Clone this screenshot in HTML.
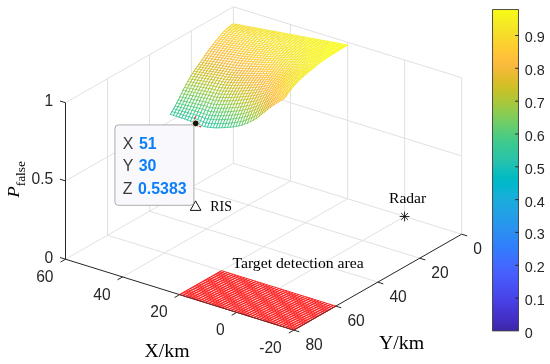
<!DOCTYPE html><html><head><meta charset="utf-8"><title>P_false surface</title><style>html,body{margin:0;padding:0;background:#fff}svg{display:block}</style></head><body><svg width="550" height="364" viewBox="0 0 550 364">
<rect width="550" height="364" fill="#fff"/>
<path d="M65.5 259.2L233.4 163.3M122.6 276.9L290.5 181.0M179.7 294.6L347.6 198.7M236.7 312.4L404.6 216.5M107.5 235.2L335.8 306.1M149.5 211.2L377.8 282.1M191.4 187.3L419.7 258.2M233.4 163.3L461.7 234.2M107.5 235.2L107.5 78.7M149.5 211.2L149.5 54.7M191.4 187.3L191.4 30.8M233.4 163.3L233.4 6.8M65.5 180.9L233.4 85.0M65.5 102.7L233.4 6.8M290.5 181.0L290.5 24.5M347.6 198.7L347.6 42.2M404.6 216.5L404.6 60.0M461.7 234.2L461.7 77.7M233.4 85.0L461.7 155.9M233.4 6.8L461.7 77.7" stroke="#dedede" stroke-width="0.9" fill="none"/>
<path d="M65.5 102.7L65.5 259.2L293.8 330.1L461.7 234.2M65.5 259.2L60.0 257.5M65.5 180.9L60.0 179.2M65.5 102.7L60.0 101.0M65.5 259.2L60.5 262.1M122.6 276.9L117.5 279.8M179.7 294.6L174.6 297.5M236.7 312.4L231.7 315.3M293.8 330.1L288.8 333.0M293.8 330.1L299.3 331.8M335.8 306.1L341.3 307.8M377.8 282.1L383.3 283.9M419.7 258.2L425.3 259.9M461.7 234.2L467.2 235.9" stroke="#262626" stroke-width="1" fill="none" stroke-linejoin="round"/>
<path d="M335.8 306.1L293.8 330.1M332.9 305.2L290.9 329.2M330.1 304.4L288.1 328.3M327.2 303.5L285.2 327.4M324.4 302.6L282.4 326.6M321.5 301.7L279.5 325.7M318.7 300.8L276.7 324.8M315.8 299.9L273.8 323.9M312.9 299.0L271.0 323.0M310.1 298.1L268.1 322.1M307.2 297.3L265.3 321.2M304.4 296.4L262.4 320.4M301.5 295.5L259.6 319.5M298.7 294.6L256.7 318.6M295.8 293.7L253.8 317.7M293.0 292.8L251.0 316.8M290.1 291.9L248.1 315.9M287.3 291.1L245.3 315.0M284.4 290.2L242.4 314.1M281.6 289.3L239.6 313.3M278.7 288.4L236.7 312.4M275.8 287.5L233.9 311.5M273.0 286.6L231.0 310.6M270.1 285.7L228.2 309.7M267.3 284.9L225.3 308.8M264.4 284.0L222.5 307.9M261.6 283.1L219.6 307.1M258.7 282.2L216.7 306.2M255.9 281.3L213.9 305.3M253.0 280.4L211.0 304.4M250.2 279.5L208.2 303.5M247.3 278.7L205.3 302.6M244.5 277.8L202.5 301.7M241.6 276.9L199.6 300.9M238.7 276.0L196.8 300.0M235.9 275.1L193.9 299.1M233.0 274.2L191.1 298.2M230.2 273.3L188.2 297.3M227.3 272.4L185.4 296.4M224.5 271.6L182.5 295.5M221.6 270.7L179.7 294.6" stroke="#ff1c1c" stroke-width="1.1" fill="none"/>
<path d="M335.8 306.1L221.6 270.7M333.7 307.3L219.5 271.9M331.6 308.5L217.4 273.1M329.5 309.7L215.3 274.3M327.4 310.9L213.2 275.5M325.3 312.1L211.1 276.7M323.2 313.3L209.0 277.9M321.1 314.5L206.9 279.1M319.0 315.7L204.8 280.3M316.9 316.9L202.7 281.5M314.8 318.1L200.6 282.7M312.7 319.3L198.5 283.9M310.6 320.5L196.4 285.1M308.5 321.7L194.3 286.3M306.4 322.9L192.2 287.5M304.3 324.1L190.1 288.7M302.2 325.3L188.0 289.9M300.1 326.5L185.9 291.1M298.0 327.7L183.8 292.3M295.9 328.9L181.7 293.5M293.8 330.1L179.7 294.6" stroke="#ff1c1c" stroke-width="0.9" fill="none"/>
<path d="M179.7 294.6L293.8 330.1L335.8 306.1" stroke="#262626" stroke-width="1" fill="none" opacity="0.55"/>
<path d="M347.6 44.9L344.7 44.4L341.8 43.9L339.0 43.3L336.1 42.8L333.3 42.3L330.4 41.8L327.6 41.2L324.7 40.7L321.9 40.2L319.0 39.6L316.2 39.1L313.3 38.6L310.5 38.1L307.6 37.5L304.7 37.0L301.9 36.5L299.0 36.0L296.2 35.4L293.3 34.9L290.5 34.4L287.6 33.9L284.8 33.3L281.9 32.8L279.1 32.3L276.2 31.8L273.4 31.2L270.5 30.7L267.6 30.2L264.8 29.6L261.9 29.1L259.1 28.6L256.2 28.1L253.4 27.5L250.5 27.0L247.7 26.5L244.8 26.0L242.0 25.4L239.1 24.9L236.3 24.4L233.4 23.9L233.4 23.9L231.8 24.8L230.3 26.0L228.7 27.2L227.1 28.4L225.5 29.8L224.0 31.4L222.4 33.2L220.8 35.0L219.2 36.8L217.7 38.6L216.1 40.6L214.5 42.5L212.9 44.5L211.4 46.6L209.8 48.7L208.2 50.9L206.6 53.1L205.1 55.3L203.5 57.6L201.9 60.0L200.3 62.3L198.8 64.5L197.2 66.7L195.6 68.9L194.0 71.2L192.5 73.6L190.9 76.1L189.3 78.7L187.8 81.5L186.2 84.5L184.6 87.4L183.0 90.4L181.5 93.6L179.9 96.8L178.3 100.0L176.7 103.1L175.2 106.0L173.6 108.9L172.0 111.6L170.4 114.3L170.4 114.3L173.3 115.2L176.1 116.2L179.0 117.1L181.9 118.1L184.7 119.0L187.6 120.0L190.4 121.0L193.3 122.0L196.1 123.0L199.0 124.3L201.8 125.7L204.7 126.6L207.5 127.1L210.4 127.4L213.2 127.7L216.1 127.8L219.0 127.8L221.8 127.7L224.7 127.6L227.5 127.4L230.4 127.2L233.2 126.9L236.1 126.5L238.9 125.9L241.8 125.2L244.6 124.2L247.5 123.1L250.3 121.8L253.2 120.3L256.1 118.5L258.9 116.5L261.8 114.3L264.6 111.9L267.5 109.7L270.3 107.5L273.2 105.4L276.0 103.5L278.9 101.9L281.7 100.4L284.6 98.4L284.6 98.4L286.2 96.0L287.7 93.7L289.3 91.6L290.9 89.5L292.5 87.6L294.0 85.7L295.6 83.9L297.2 82.3L298.8 80.7L300.3 79.2L301.9 77.7L303.5 76.3L305.1 74.9L306.6 73.6L308.2 72.3L309.8 71.0L311.3 69.8L312.9 68.5L314.5 67.2L316.1 65.9L317.6 64.6L319.2 63.3L320.8 62.1L322.4 61.0L323.9 59.9L325.5 58.8L327.1 57.7L328.7 56.6L330.2 55.6L331.8 54.6L333.4 53.6L335.0 52.7L336.5 51.7L338.1 50.7L339.7 49.7L341.3 48.8L342.8 47.8L344.4 46.8L346.0 45.9L347.6 44.9 z" fill="#fff"/>
<g fill="none" stroke-width="0.75" stroke-linecap="round">
<path stroke="#2cc4a6" d="M213.2 127.7l-2.9 -0.3M210.4 127.4l-2.9 -0.3M207.5 127.1l-2.9 -0.5M204.7 126.6l-2.9 -0.9M201.8 125.7l-2.9 -1.4M199.0 124.3l-2.9 -1.3M196.1 123.0l-2.9 -1.0M193.3 122.0l-2.9 -1.0M190.4 121.0l-2.9 -1.0"/>
<path stroke="#34c79c" d="M221.8 127.7l-2.9 0.1M219.0 127.8l-2.9 0.0M216.1 127.8l-2.9 -0.1M214.8 123.7l-2.9 -0.2M212.0 123.4l-2.9 -0.3M209.1 123.2l-2.9 -0.4M206.3 122.8l-2.9 -0.8M203.4 121.9l-2.9 -1.3M200.5 120.7l-2.9 -1.2M197.7 119.5l-2.9 -0.9M194.8 118.6l-2.9 -0.9M192.0 117.7l-2.9 -0.9M189.1 116.8l-2.9 -0.9M187.6 120.0l-2.9 -1.0M186.3 115.9l-2.9 -0.9M184.7 119.0l-2.9 -1.0M183.4 115.0l-2.9 -0.9M181.9 118.1l-2.9 -1.0M180.6 114.2l-2.9 -0.9M179.0 117.1l-2.9 -1.0M177.7 113.3l-2.9 -0.9M176.1 116.2l-2.9 -0.9M174.9 112.5l-2.9 -0.8M173.3 115.2l-2.9 -0.9"/>
<path stroke="#3dc990" d="M230.4 127.2l-2.9 0.2M227.5 127.4l-2.9 0.2M224.7 127.6l-2.9 0.1M223.4 123.5l-2.9 0.1M220.5 123.6l-2.9 0.1M217.7 123.7l-2.9 -0.0M216.4 119.7l-2.9 -0.2M213.5 119.5l-2.9 -0.2M210.7 119.3l-2.9 -0.4M207.8 119.0l-2.9 -0.7M205.0 118.3l-2.9 -1.1M202.1 117.1l-2.9 -1.1M199.3 116.0l-2.9 -0.8M196.4 115.2l-2.9 -0.8M193.6 114.4l-2.9 -0.8M190.7 113.6l-2.9 -0.8M187.9 112.8l-2.9 -0.8M185.0 112.0l-2.9 -0.8M182.1 111.2l-2.9 -0.8M180.9 107.4l-2.9 -0.7M179.3 110.4l-2.9 -0.8M178.0 106.7l-2.9 -0.7M176.4 109.6l-2.9 -0.8"/>
<path stroke="#4bcb84" d="M238.9 125.9l-2.9 0.6M236.1 126.5l-2.9 0.4M233.2 126.9l-2.9 0.3M231.9 122.9l-2.9 0.3M229.1 123.2l-2.9 0.2M226.2 123.4l-2.9 0.1M225.0 119.4l-2.9 0.2M222.1 119.6l-2.9 0.1M219.2 119.7l-2.9 -0.0M218.0 115.8l-2.9 -0.1M215.1 115.7l-2.9 -0.1M212.3 115.6l-2.9 -0.3M209.4 115.3l-2.9 -0.7M206.6 114.6l-2.9 -1.1M203.7 113.6l-2.9 -1.0M200.8 112.6l-2.9 -0.8M198.0 111.8l-2.9 -0.7M196.7 107.7l-2.9 -0.7M195.1 111.0l-2.9 -0.7M193.9 107.1l-2.9 -0.7M192.3 110.3l-2.9 -0.7M191.0 106.4l-2.9 -0.7M189.4 109.6l-2.9 -0.7M188.1 105.7l-2.9 -0.7M186.6 108.9l-2.9 -0.7M185.3 105.1l-2.9 -0.7M183.7 108.2l-2.9 -0.7M182.4 104.4l-2.9 -0.7M179.6 103.7l-2.9 -0.7"/>
<path stroke="#5ccc76" d="M244.6 124.2l-2.9 1.0M241.8 125.2l-2.9 0.7M240.5 121.6l-2.9 0.6M237.6 122.2l-2.9 0.4M234.8 122.6l-2.9 0.3M233.5 118.8l-2.9 0.3M230.7 119.1l-2.9 0.2M227.8 119.3l-2.9 0.2M226.5 115.5l-2.9 0.2M223.7 115.7l-2.9 0.1M222.4 112.0l-2.9 0.1M220.8 115.8l-2.9 0.0M219.5 112.1l-2.9 -0.1M216.7 112.0l-2.9 -0.1M213.8 111.9l-2.9 -0.3M212.6 107.9l-2.9 -0.6M211.0 111.6l-2.9 -0.6M209.7 107.4l-2.9 -0.9M208.1 111.0l-2.9 -1.0M206.8 106.4l-2.9 -0.9M205.3 110.0l-2.9 -0.9M204.0 105.6l-2.9 -0.7M202.4 109.1l-2.9 -0.7M201.1 104.9l-2.9 -0.6M199.6 108.4l-2.9 -0.7M198.3 104.3l-2.9 -0.6M195.4 103.7l-2.9 -0.6M192.6 103.1l-2.9 -0.6M189.7 102.4l-2.9 -0.6M186.9 101.8l-2.9 -0.6M184.0 101.2l-2.9 -0.6M182.7 97.4l-2.9 -0.6M181.2 100.6l-2.9 -0.6"/>
<path stroke="#6dcd67" d="M247.5 123.1l-2.9 1.1M243.4 120.9l-2.9 0.7M239.2 118.0l-2.9 0.4M236.4 118.4l-2.9 0.4M235.1 114.8l-2.9 0.3M232.2 115.1l-2.9 0.2M231.0 111.5l-2.9 0.2M229.4 115.3l-2.9 0.2M228.1 111.7l-2.9 0.2M225.2 111.9l-2.9 0.2M224.0 108.2l-2.9 0.1M221.1 108.3l-2.9 -0.1M218.3 108.2l-2.9 -0.1M215.4 108.1l-2.9 -0.2M214.1 104.2l-2.9 -0.5M211.3 103.7l-2.9 -0.8M208.4 102.8l-2.9 -0.8M205.6 102.0l-2.9 -0.6M202.7 101.4l-2.9 -0.6M199.9 100.8l-2.9 -0.6M197.0 100.2l-2.9 -0.6M194.2 99.7l-2.9 -0.6M191.3 99.1l-2.9 -0.6M190.0 95.2l-2.9 -0.6M188.4 98.5l-2.9 -0.6M187.2 94.6l-2.9 -0.5M185.6 97.9l-2.9 -0.6M184.3 94.1l-2.9 -0.5"/>
<path stroke="#81cc59" d="M253.2 120.3l-2.9 1.5M250.3 121.8l-2.9 1.3M249.1 118.8l-2.9 1.1M246.2 119.9l-2.9 1.0M244.9 116.7l-2.9 0.7M243.6 113.4l-2.9 0.6M242.1 117.4l-2.9 0.6M240.8 114.0l-2.9 0.4M237.9 114.4l-2.9 0.4M236.7 111.0l-2.9 0.3M233.8 111.3l-2.9 0.2M232.5 107.7l-2.9 0.2M229.7 107.9l-2.9 0.2M226.8 108.1l-2.9 0.2M225.5 104.5l-2.9 0.1M222.7 104.6l-2.9 -0.1M219.8 104.5l-2.9 -0.1M218.6 100.8l-2.9 -0.2M217.0 104.4l-2.9 -0.2M215.7 100.6l-2.9 -0.5M212.8 100.1l-2.9 -0.8M210.0 99.3l-2.9 -0.8M207.1 98.6l-2.9 -0.6M204.3 98.0l-2.9 -0.6M201.4 97.4l-2.9 -0.5M200.2 93.6l-2.9 -0.5M198.6 96.9l-2.9 -0.5M197.3 93.1l-2.9 -0.5M195.7 96.3l-2.9 -0.6M194.4 92.5l-2.9 -0.5M192.9 95.8l-2.9 -0.6M191.6 92.0l-2.9 -0.5M188.7 91.5l-2.9 -0.5M185.9 90.9l-2.9 -0.5"/>
<path stroke="#94ca4a" d="M256.1 118.5l-2.9 1.8M254.8 116.2l-2.9 1.4M251.9 117.6l-2.9 1.2M250.6 114.8l-2.9 1.0M249.4 111.9l-2.9 0.9M247.8 115.8l-2.9 0.9M246.5 112.8l-2.9 0.7M245.2 109.7l-2.9 0.5M242.4 110.2l-2.9 0.4M241.1 106.8l-2.9 0.3M239.5 110.6l-2.9 0.4M238.2 107.2l-2.9 0.3M235.4 107.5l-2.9 0.2M234.1 104.0l-2.9 0.2M231.2 104.2l-2.9 0.2M230.0 100.8l-2.9 0.1M228.4 104.3l-2.9 0.1M227.1 100.9l-2.9 0.1M224.3 100.9l-2.9 -0.1M223.0 97.5l-2.9 -0.1M221.4 100.9l-2.9 -0.1M220.1 97.4l-2.9 -0.2M217.3 97.2l-2.9 -0.5M214.4 96.7l-2.9 -0.8M211.6 96.0l-2.9 -0.7M210.3 92.1l-2.9 -0.5M208.7 95.2l-2.9 -0.6M207.4 91.5l-2.9 -0.5M205.9 94.7l-2.9 -0.5M204.6 91.0l-2.9 -0.5M203.0 94.1l-2.9 -0.5M201.7 90.5l-2.9 -0.5M198.9 90.0l-2.9 -0.5M196.0 89.5l-2.9 -0.5M194.7 86.0l-2.9 -0.5M193.2 89.0l-2.9 -0.5M191.9 85.5l-2.9 -0.5M190.3 88.4l-2.9 -0.5M189.0 85.0l-2.9 -0.5M187.5 87.9l-2.9 -0.5"/>
<path stroke="#a6c83c" d="M258.9 116.5l-2.9 2.0M257.6 114.5l-2.9 1.7M256.3 112.3l-2.9 1.3M253.5 113.6l-2.9 1.2M252.2 110.9l-2.9 1.0M250.9 108.2l-2.9 0.8M248.1 109.0l-2.9 0.6M246.8 105.9l-2.9 0.5M243.9 106.4l-2.9 0.4M242.7 103.2l-2.9 0.3M239.8 103.5l-2.9 0.3M238.5 100.2l-2.9 0.2M237.0 103.8l-2.9 0.2M235.7 100.4l-2.9 0.2M232.8 100.6l-2.9 0.2M231.5 97.4l-2.9 0.1M228.7 97.5l-2.9 0.0M227.4 94.3l-2.9 -0.1M225.8 97.5l-2.9 -0.1M224.6 94.3l-2.9 -0.1M221.7 94.2l-2.9 -0.2M220.4 90.8l-2.9 -0.4M218.8 94.0l-2.9 -0.5M217.6 90.4l-2.9 -0.7M216.0 93.5l-2.9 -0.7M214.7 89.7l-2.9 -0.7M213.1 92.8l-2.9 -0.7M211.9 89.0l-2.9 -0.5M209.0 88.5l-2.9 -0.5M206.2 88.0l-2.9 -0.5M204.9 84.5l-2.9 -0.5M203.3 87.5l-2.9 -0.5M202.0 84.0l-2.9 -0.5M200.4 87.0l-2.9 -0.5M199.2 83.5l-2.9 -0.5M197.6 86.5l-2.9 -0.5M196.3 83.0l-2.9 -0.5M193.5 82.5l-2.9 -0.5M192.2 79.2l-2.9 -0.5M190.6 82.0l-2.9 -0.5"/>
<path stroke="#b8c431" d="M261.8 114.3l-2.9 2.3M260.5 112.7l-2.9 1.9M259.2 110.7l-2.9 1.6M257.9 108.6l-2.9 1.2M256.6 106.2l-2.9 1.0M255.1 109.8l-2.9 1.1M253.8 107.3l-2.9 0.9M252.5 104.6l-2.9 0.8M249.7 105.3l-2.9 0.6M248.4 102.3l-2.9 0.5M245.5 102.8l-2.9 0.4M244.2 99.7l-2.9 0.3M241.4 100.0l-2.9 0.2M240.1 97.0l-2.9 0.2M237.3 97.1l-2.9 0.1M236.0 94.1l-2.9 0.1M234.4 97.3l-2.9 0.1M233.1 94.2l-2.9 0.1M231.8 91.2l-2.9 0.0M230.3 94.3l-2.9 0.0M229.0 91.2l-2.9 -0.1M227.7 88.1l-2.9 -0.1M226.1 91.1l-2.9 -0.1M224.9 88.0l-2.9 -0.2M223.3 91.0l-2.9 -0.2M222.0 87.8l-2.9 -0.4M219.1 87.3l-2.9 -0.7M216.3 86.7l-2.9 -0.6M215.0 83.1l-2.9 -0.5M213.4 86.0l-2.9 -0.5M212.2 82.6l-2.9 -0.5M210.6 85.5l-2.9 -0.5M209.3 82.1l-2.9 -0.5M207.7 85.0l-2.9 -0.5M206.4 81.7l-2.9 -0.5M203.6 81.2l-2.9 -0.5M202.3 78.0l-2.9 -0.5M200.7 80.7l-2.9 -0.5M199.5 77.5l-2.9 -0.5M197.9 80.2l-2.9 -0.5M196.6 77.0l-2.9 -0.5M195.0 79.7l-2.9 -0.5M195.3 74.0l-2.9 -0.5M193.8 76.6l-2.9 -0.5"/>
<path stroke="#c8c129" d="M264.6 111.9l-2.9 2.3M263.3 110.6l-2.9 2.1M262.1 109.0l-2.9 1.7M260.8 107.1l-2.9 1.5M259.5 105.1l-2.9 1.2M258.2 102.7l-2.9 1.0M255.4 103.7l-2.9 0.9M254.1 101.1l-2.9 0.7M252.8 98.4l-2.9 0.5M251.2 101.8l-2.9 0.6M249.9 99.0l-2.9 0.4M248.7 96.2l-2.9 0.3M247.1 99.4l-2.9 0.3M245.8 96.5l-2.9 0.3M244.5 93.7l-2.9 0.2M243.0 96.7l-2.9 0.2M241.7 93.8l-2.9 0.1M240.4 91.0l-2.9 0.1M238.8 94.0l-2.9 0.1M237.5 91.1l-2.9 0.1M236.3 88.2l-2.9 0.0M234.7 91.2l-2.9 0.1M233.4 88.2l-2.9 -0.0M232.1 85.3l-2.9 -0.1M230.6 88.2l-2.9 -0.1M229.3 85.2l-2.9 -0.1M228.0 82.3l-2.9 -0.2M226.4 85.1l-2.9 -0.2M225.1 82.1l-2.9 -0.4M223.6 84.8l-2.9 -0.4M222.3 81.7l-2.9 -0.6M220.7 84.4l-2.9 -0.7M219.4 81.0l-2.9 -0.6M217.9 83.8l-2.9 -0.6M216.6 80.4l-2.9 -0.5M215.3 77.4l-2.9 -0.5M213.7 79.9l-2.9 -0.5M212.5 76.9l-2.9 -0.5M210.9 79.4l-2.9 -0.5M209.6 76.4l-2.9 -0.5M208.0 78.9l-2.9 -0.5M208.3 73.6l-2.9 -0.5M206.7 75.9l-2.9 -0.5M205.2 78.5l-2.9 -0.5M205.5 73.1l-2.9 -0.5M203.9 75.5l-2.9 -0.5M202.6 72.6l-2.9 -0.5M201.0 75.0l-2.9 -0.5M199.8 72.2l-2.9 -0.5M198.2 74.5l-2.9 -0.5M198.5 69.4l-2.9 -0.5M196.9 71.7l-2.9 -0.5"/>
<path stroke="#d7be28" d="M267.5 109.7l-2.9 2.3M266.2 108.4l-2.9 2.2M264.9 107.0l-2.9 2.0M263.6 105.5l-2.9 1.6M262.3 103.7l-2.9 1.4M261.1 101.7l-2.9 1.1M259.8 99.4l-2.9 0.9M258.5 97.1l-2.9 0.7M256.9 100.3l-2.9 0.8M257.2 94.8l-2.9 0.6M255.7 97.8l-2.9 0.6M254.4 95.4l-2.9 0.5M253.1 92.8l-2.9 0.3M251.5 95.8l-2.9 0.4M250.2 93.2l-2.9 0.3M249.0 90.5l-2.9 0.2M247.4 93.5l-2.9 0.2M247.7 87.9l-2.9 0.1M246.1 90.7l-2.9 0.1M244.8 88.0l-2.9 0.1M243.3 90.9l-2.9 0.1M243.5 85.3l-2.9 0.0M242.0 88.1l-2.9 0.1M240.7 85.3l-2.9 0.0M239.1 88.1l-2.9 0.1M239.4 82.7l-2.9 -0.0M237.8 85.4l-2.9 0.0M236.6 82.7l-2.9 -0.1M235.0 85.4l-2.9 -0.0M235.3 80.1l-2.9 -0.2M233.7 82.6l-2.9 -0.1M232.4 79.9l-2.9 -0.2M230.9 82.5l-2.9 -0.2M231.1 77.3l-2.9 -0.3M229.6 79.7l-2.9 -0.2M228.3 77.1l-2.9 -0.4M226.7 79.5l-2.9 -0.4M225.4 76.6l-2.9 -0.6M223.9 79.1l-2.9 -0.6M222.6 76.0l-2.9 -0.6M221.0 78.5l-2.9 -0.6M221.3 73.1l-2.9 -0.5M219.7 75.4l-2.9 -0.5M218.2 77.9l-2.9 -0.5M218.5 72.7l-2.9 -0.5M216.9 75.0l-2.9 -0.5M215.6 72.2l-2.9 -0.5M214.0 74.5l-2.9 -0.5M214.3 69.5l-2.9 -0.5M212.7 71.7l-2.9 -0.5M211.2 74.0l-2.9 -0.5M211.5 69.0l-2.9 -0.5M209.9 71.3l-2.9 -0.5M208.6 68.6l-2.9 -0.5M207.0 70.8l-2.9 -0.5M207.3 65.9l-2.9 -0.5M205.8 68.1l-2.9 -0.5M204.2 70.3l-2.9 -0.5M204.5 65.4l-2.9 -0.5M202.9 67.6l-2.9 -0.5M201.3 69.9l-2.9 -0.5M201.6 65.0l-2.9 -0.5M200.1 67.2l-2.9 -0.5"/>
<path stroke="#e5bb2d" d="M270.3 107.5l-2.9 2.2M269.0 106.3l-2.9 2.1M269.3 101.8l-2.9 1.9M267.8 105.0l-2.9 2.0M268.1 100.5l-2.9 1.7M266.5 103.7l-2.9 1.8M266.8 99.0l-2.9 1.4M265.2 102.2l-2.9 1.5M265.5 97.3l-2.9 1.1M263.9 100.4l-2.9 1.2M264.2 95.4l-2.9 0.9M262.6 98.4l-2.9 1.0M262.9 93.4l-2.9 0.7M261.4 96.3l-2.9 0.8M260.1 94.1l-2.9 0.7M258.8 91.9l-2.9 0.5M257.5 89.6l-2.9 0.4M255.9 92.4l-2.9 0.4M256.2 87.3l-2.9 0.2M254.7 90.0l-2.9 0.3M253.4 87.5l-2.9 0.2M251.8 90.3l-2.9 0.2M252.1 85.0l-2.9 0.1M250.5 87.7l-2.9 0.1M249.3 85.2l-2.9 0.1M248.0 82.6l-2.9 0.0M246.4 85.2l-2.9 0.1M246.7 80.2l-2.9 -0.0M245.1 82.7l-2.9 0.0M243.8 80.2l-2.9 -0.0M242.3 82.7l-2.9 0.0M242.6 77.8l-2.9 -0.1M241.0 80.2l-2.9 -0.0M239.7 77.8l-2.9 -0.1M238.1 80.2l-2.9 -0.1M238.4 75.4l-2.9 -0.2M236.9 77.7l-2.9 -0.2M235.6 75.2l-2.9 -0.2M234.0 77.5l-2.9 -0.2M234.3 72.7l-2.9 -0.3M232.7 75.0l-2.9 -0.3M231.4 72.4l-2.9 -0.4M229.9 74.7l-2.9 -0.4M228.6 72.0l-2.9 -0.6M227.0 74.3l-2.9 -0.6M227.3 69.1l-2.9 -0.5M225.7 71.4l-2.9 -0.6M224.2 73.7l-2.9 -0.6M224.5 68.6l-2.9 -0.5M222.9 70.9l-2.9 -0.5M221.6 68.1l-2.9 -0.5M220.0 70.4l-2.9 -0.5M220.3 65.4l-2.9 -0.4M218.7 67.7l-2.9 -0.4M217.2 69.9l-2.9 -0.5M217.5 64.9l-2.9 -0.4M215.9 67.2l-2.9 -0.4M214.6 64.5l-2.9 -0.4M213.0 66.8l-2.9 -0.5M211.8 64.0l-2.9 -0.4M210.2 66.3l-2.9 -0.5M210.5 61.3l-2.9 -0.4M208.9 63.6l-2.9 -0.4M207.6 60.8l-2.9 -0.4M206.1 63.2l-2.9 -0.4M204.8 60.4l-2.9 -0.4M203.2 62.7l-2.9 -0.4"/>
<path stroke="#f1ba37" d="M273.2 105.4l-2.9 2.0M273.5 101.2l-2.9 1.9M271.9 104.3l-2.9 2.0M272.2 100.0l-2.9 1.8M270.6 103.1l-2.9 1.9M270.9 98.8l-2.9 1.7M269.6 97.5l-2.9 1.5M268.3 96.0l-2.9 1.3M267.1 94.3l-2.9 1.0M265.8 92.6l-2.9 0.8M264.5 90.7l-2.9 0.7M263.2 88.6l-2.9 0.5M261.7 91.3l-2.9 0.6M261.9 86.6l-2.9 0.4M260.4 89.2l-2.9 0.5M260.7 84.4l-2.9 0.3M259.1 87.0l-2.9 0.3M257.8 84.7l-2.9 0.2M256.5 82.4l-2.9 0.1M255.0 84.9l-2.9 0.2M255.3 80.1l-2.9 0.1M253.7 82.5l-2.9 0.1M254.0 77.9l-2.9 -0.0M252.4 80.2l-2.9 0.0M250.8 82.6l-2.9 0.1M251.1 77.9l-2.9 -0.0M249.5 80.2l-2.9 0.0M249.8 75.7l-2.9 -0.1M248.3 77.9l-2.9 -0.0M247.0 75.6l-2.9 -0.1M245.4 77.9l-2.9 -0.0M245.7 73.3l-2.9 -0.1M244.1 75.5l-2.9 -0.1M244.4 70.9l-2.9 -0.1M242.9 73.2l-2.9 -0.1M241.3 75.5l-2.9 -0.1M241.6 70.8l-2.9 -0.2M240.0 73.1l-2.9 -0.2M240.3 68.2l-2.9 -0.2M238.7 70.6l-2.9 -0.2M237.1 72.9l-2.9 -0.2M237.4 68.0l-2.9 -0.3M235.9 70.4l-2.9 -0.3M234.6 67.7l-2.9 -0.4M233.0 70.1l-2.9 -0.4M233.3 64.9l-2.9 -0.5M231.7 67.3l-2.9 -0.5M230.2 69.7l-2.9 -0.6M230.5 64.4l-2.9 -0.5M228.9 66.8l-2.9 -0.5M227.6 63.9l-2.9 -0.4M226.0 66.3l-2.9 -0.5M224.7 63.4l-2.9 -0.4M223.2 65.8l-2.9 -0.4M223.5 60.6l-2.9 -0.4M221.9 63.0l-2.9 -0.4M220.6 60.2l-2.9 -0.4M219.0 62.6l-2.9 -0.4M217.8 59.8l-2.9 -0.4M216.2 62.1l-2.9 -0.4M216.5 57.1l-2.9 -0.4M214.9 59.4l-2.9 -0.4M213.3 61.7l-2.9 -0.4M213.6 56.6l-2.9 -0.4M212.1 58.9l-2.9 -0.4M210.8 56.2l-2.9 -0.4M209.2 58.5l-2.9 -0.4M209.5 53.5l-2.9 -0.4M207.9 55.8l-2.9 -0.4M206.3 58.1l-2.9 -0.4"/>
<path stroke="#fbbc3d" d="M277.6 100.7l-2.9 1.7M276.0 103.5l-2.9 1.9M276.3 99.5l-2.9 1.7M274.7 102.4l-2.9 1.9M275.0 98.3l-2.9 1.7M275.3 94.5l-2.9 1.5M273.8 97.2l-2.9 1.6M274.1 93.2l-2.9 1.4M272.5 95.9l-2.9 1.6M272.8 91.9l-2.9 1.3M271.2 94.6l-2.9 1.4M271.5 90.6l-2.9 1.0M269.9 93.2l-2.9 1.1M270.2 89.1l-2.9 0.9M268.6 91.6l-2.9 0.9M268.9 87.4l-2.9 0.7M267.4 89.9l-2.9 0.7M267.7 85.6l-2.9 0.5M266.1 88.1l-2.9 0.6M266.4 83.6l-2.9 0.4M264.8 86.1l-2.9 0.5M265.1 81.7l-2.9 0.3M263.5 84.1l-2.9 0.4M263.8 79.7l-2.9 0.2M262.2 82.0l-2.9 0.2M262.5 77.7l-2.9 0.1M261.0 79.9l-2.9 0.1M259.4 82.2l-2.9 0.2M261.3 75.7l-2.9 0.0M259.7 77.8l-2.9 0.1M258.1 80.1l-2.9 0.1M258.4 75.7l-2.9 -0.0M256.8 77.9l-2.9 0.0M257.1 73.6l-2.9 -0.0M255.6 75.7l-2.9 -0.0M255.8 71.3l-2.9 -0.1M254.3 73.5l-2.9 -0.1M252.7 75.7l-2.9 -0.0M253.0 71.2l-2.9 -0.1M251.4 73.5l-2.9 -0.1M251.7 68.8l-2.9 -0.1M250.1 71.1l-2.9 -0.1M248.6 73.4l-2.9 -0.1M248.9 68.7l-2.9 -0.1M247.3 71.0l-2.9 -0.1M247.6 66.2l-2.9 -0.2M246.0 68.6l-2.9 -0.2M244.7 66.0l-2.9 -0.2M243.2 68.4l-2.9 -0.2M243.4 63.4l-2.9 -0.2M241.9 65.8l-2.9 -0.2M240.6 63.2l-2.9 -0.3M239.0 65.6l-2.9 -0.3M237.7 62.9l-2.9 -0.4M236.2 65.3l-2.9 -0.4M236.5 60.2l-2.9 -0.5M234.9 62.5l-2.9 -0.5M233.6 59.7l-2.9 -0.5M232.0 62.0l-2.9 -0.5M230.8 59.2l-2.9 -0.4M229.2 61.5l-2.9 -0.4M229.5 56.5l-2.9 -0.4M227.9 58.7l-2.9 -0.4M226.3 61.1l-2.9 -0.4M226.6 56.1l-2.9 -0.4M225.0 58.3l-2.9 -0.4M223.8 55.7l-2.9 -0.4M222.2 57.9l-2.9 -0.4M222.5 53.1l-2.9 -0.4M220.9 55.2l-2.9 -0.4M219.3 57.5l-2.9 -0.4M219.6 52.6l-2.9 -0.4M218.1 54.8l-2.9 -0.4M218.4 50.0l-2.9 -0.4M216.8 52.2l-2.9 -0.4M215.2 54.4l-2.9 -0.4M215.5 49.6l-2.9 -0.4M213.9 51.8l-2.9 -0.4M212.3 54.0l-2.9 -0.4M212.6 49.2l-2.9 -0.4M211.1 51.3l-2.9 -0.4"/>
<path stroke="#fec239" d="M281.7 100.4l-2.9 1.4M280.5 99.2l-2.9 1.5M278.9 101.9l-2.9 1.6M279.2 97.9l-2.9 1.6M279.5 94.2l-2.9 1.4M277.9 96.8l-2.9 1.6M278.2 93.0l-2.9 1.4M276.6 95.6l-2.9 1.6M276.9 91.8l-2.9 1.3M277.2 88.3l-2.9 1.2M275.6 90.6l-2.9 1.3M275.9 87.1l-2.9 1.1M274.4 89.4l-2.9 1.2M274.6 85.8l-2.9 0.8M273.1 88.1l-2.9 0.9M274.9 82.1l-2.9 0.6M273.4 84.3l-2.9 0.7M271.8 86.6l-2.9 0.8M273.7 80.5l-2.9 0.5M272.1 82.7l-2.9 0.5M270.5 85.0l-2.9 0.6M272.4 78.8l-2.9 0.3M270.8 80.9l-2.9 0.4M269.2 83.2l-2.9 0.5M271.1 77.1l-2.9 0.3M269.5 79.2l-2.9 0.3M268.0 81.3l-2.9 0.4M269.8 75.3l-2.9 0.2M268.2 77.4l-2.9 0.2M266.7 79.5l-2.9 0.3M268.5 73.5l-2.9 0.1M267.0 75.5l-2.9 0.1M265.4 77.6l-2.9 0.1M265.7 73.5l-2.9 0.0M264.1 75.6l-2.9 0.1M264.4 71.4l-2.9 -0.0M262.8 73.6l-2.9 0.0M263.1 69.2l-2.9 -0.1M261.6 71.4l-2.9 -0.0M260.0 73.6l-2.9 -0.0M260.3 69.1l-2.9 -0.1M258.7 71.4l-2.9 -0.1M259.0 66.7l-2.9 -0.1M257.4 69.0l-2.9 -0.1M256.1 66.6l-2.9 -0.1M254.6 68.9l-2.9 -0.1M254.9 64.1l-2.9 -0.1M253.3 66.5l-2.9 -0.1M252.0 64.0l-2.9 -0.2M250.4 66.3l-2.9 -0.1M250.7 61.5l-2.9 -0.2M249.2 63.8l-2.9 -0.2M249.4 59.1l-2.9 -0.3M247.9 61.3l-2.9 -0.2M246.3 63.6l-2.9 -0.2M246.6 58.9l-2.9 -0.3M245.0 61.1l-2.9 -0.2M245.3 56.5l-2.9 -0.3M243.7 58.6l-2.9 -0.3M242.2 60.8l-2.9 -0.3M242.5 56.1l-2.9 -0.4M240.9 58.3l-2.9 -0.4M239.3 60.6l-2.9 -0.4M239.6 55.7l-2.9 -0.5M238.0 57.9l-2.9 -0.5M238.3 53.1l-2.9 -0.5M236.8 55.3l-2.9 -0.5M235.2 57.4l-2.9 -0.5M235.5 52.6l-2.9 -0.4M233.9 54.8l-2.9 -0.4M232.3 56.9l-2.9 -0.4M232.6 52.2l-2.9 -0.4M231.0 54.3l-2.9 -0.4M231.3 49.7l-2.9 -0.4M229.8 51.8l-2.9 -0.4M228.2 53.9l-2.9 -0.4M228.5 49.3l-2.9 -0.4M226.9 51.3l-2.9 -0.4M225.3 53.5l-2.9 -0.4M227.2 46.8l-2.9 -0.4M225.6 48.8l-2.9 -0.4M224.1 50.9l-2.9 -0.4M224.4 46.3l-2.9 -0.4M222.8 48.4l-2.9 -0.4M221.2 50.5l-2.9 -0.4M221.5 45.9l-2.9 -0.5M219.9 47.9l-2.9 -0.4M220.2 43.5l-2.9 -0.5M218.6 45.4l-2.9 -0.5M217.1 47.5l-2.9 -0.4M217.4 43.0l-2.9 -0.5M215.8 45.0l-2.9 -0.5M214.2 47.0l-2.9 -0.4"/>
<path stroke="#feca33" d="M284.6 98.4l-2.9 2.0M284.9 95.4l-2.9 1.2M283.3 97.9l-2.9 1.3M283.6 94.1l-2.9 1.2M282.0 96.6l-2.9 1.4M282.3 92.9l-2.9 1.3M280.7 95.3l-2.9 1.4M282.6 89.4l-2.9 1.2M281.0 91.8l-2.9 1.3M281.3 88.2l-2.9 1.2M279.8 90.6l-2.9 1.3M281.6 85.0l-2.9 1.0M280.1 87.1l-2.9 1.1M278.5 89.4l-2.9 1.2M280.4 83.9l-2.9 1.0M278.8 86.0l-2.9 1.1M280.6 80.6l-2.9 0.8M279.1 82.7l-2.9 0.9M277.5 84.8l-2.9 0.9M279.4 79.3l-2.9 0.6M277.8 81.4l-2.9 0.7M276.2 83.5l-2.9 0.8M279.7 76.1l-2.9 0.4M278.1 78.0l-2.9 0.5M276.5 79.9l-2.9 0.5M278.4 74.6l-2.9 0.3M276.8 76.5l-2.9 0.3M275.2 78.4l-2.9 0.4M277.1 72.9l-2.9 0.2M275.5 74.9l-2.9 0.2M274.0 76.8l-2.9 0.3M275.8 71.1l-2.9 0.1M274.2 73.1l-2.9 0.2M272.7 75.1l-2.9 0.2M274.5 69.2l-2.9 0.1M273.0 71.3l-2.9 0.1M271.4 73.3l-2.9 0.1M271.7 69.2l-2.9 0.0M270.1 71.4l-2.9 0.0M270.4 67.0l-2.9 -0.0M268.8 69.3l-2.9 -0.0M267.3 71.4l-2.9 0.0M269.1 64.8l-2.9 -0.1M267.6 67.0l-2.9 -0.1M266.0 69.2l-2.9 -0.0M266.3 64.7l-2.9 -0.1M264.7 66.9l-2.9 -0.1M265.0 62.4l-2.9 -0.2M263.4 64.6l-2.9 -0.1M261.8 66.8l-2.9 -0.1M262.1 62.2l-2.9 -0.2M260.6 64.4l-2.9 -0.1M260.9 60.0l-2.9 -0.2M259.3 62.1l-2.9 -0.2M257.7 64.3l-2.9 -0.2M259.6 57.7l-2.9 -0.2M258.0 59.8l-2.9 -0.2M256.4 61.9l-2.9 -0.2M256.7 57.5l-2.9 -0.2M255.2 59.6l-2.9 -0.2M253.6 61.7l-2.9 -0.2M255.4 55.2l-2.9 -0.3M253.9 57.3l-2.9 -0.2M252.3 59.4l-2.9 -0.2M252.6 55.0l-2.9 -0.3M251.0 57.0l-2.9 -0.3M251.3 52.6l-2.9 -0.3M249.7 54.7l-2.9 -0.3M248.2 56.7l-2.9 -0.3M248.5 52.3l-2.9 -0.3M246.9 54.4l-2.9 -0.3M247.2 50.0l-2.9 -0.4M245.6 52.0l-2.9 -0.4M244.0 54.0l-2.9 -0.4M244.3 49.5l-2.9 -0.5M242.8 51.5l-2.9 -0.5M241.2 53.6l-2.9 -0.5M243.0 47.1l-2.9 -0.5M241.5 49.1l-2.9 -0.5M239.9 51.1l-2.9 -0.5M240.2 46.6l-2.9 -0.5M238.6 48.6l-2.9 -0.4M237.0 50.6l-2.9 -0.4M237.3 46.2l-2.9 -0.5M235.8 48.1l-2.9 -0.4M234.2 50.1l-2.9 -0.4M236.1 43.8l-2.9 -0.5M234.5 45.7l-2.9 -0.5M232.9 47.7l-2.9 -0.4M233.2 43.4l-2.9 -0.5M231.6 45.3l-2.9 -0.5M230.1 47.2l-2.9 -0.4M231.9 41.0l-2.9 -0.5M230.4 42.9l-2.9 -0.5M228.8 44.8l-2.9 -0.5M229.1 40.6l-2.9 -0.5M227.5 42.4l-2.9 -0.5M225.9 44.4l-2.9 -0.5M227.8 38.3l-2.9 -0.5M226.2 40.1l-2.9 -0.5M224.6 42.0l-2.9 -0.5M223.1 43.9l-2.9 -0.5M224.9 37.8l-2.9 -0.5M223.4 39.6l-2.9 -0.5M221.8 41.5l-2.9 -0.5M222.1 37.3l-2.9 -0.5M220.5 39.1l-2.9 -0.5M218.9 41.0l-2.9 -0.5"/>
<path stroke="#fbd22f" d="M287.7 93.7l-2.9 1.7M286.2 96.0l-2.9 1.8M288.0 90.9l-2.9 1.0M286.5 93.1l-2.9 1.1M286.8 89.6l-2.9 1.0M285.2 91.8l-2.9 1.1M287.0 86.3l-2.9 0.9M285.5 88.4l-2.9 1.0M283.9 90.6l-2.9 1.2M285.8 85.2l-2.9 0.9M284.2 87.2l-2.9 1.0M286.1 82.1l-2.9 0.8M284.5 84.1l-2.9 0.9M282.9 86.1l-2.9 1.0M286.4 79.2l-2.9 0.7M284.8 81.0l-2.9 0.8M283.2 83.0l-2.9 0.9M285.1 78.0l-2.9 0.7M283.5 79.9l-2.9 0.8M281.9 81.8l-2.9 0.9M285.4 75.1l-2.9 0.5M283.8 76.8l-2.9 0.6M282.2 78.7l-2.9 0.7M285.7 72.0l-2.9 0.3M284.1 73.8l-2.9 0.4M282.5 75.6l-2.9 0.5M280.9 77.4l-2.9 0.5M284.4 70.5l-2.9 0.3M282.8 72.4l-2.9 0.3M281.2 74.2l-2.9 0.4M283.1 68.8l-2.9 0.2M281.5 70.8l-2.9 0.2M280.0 72.7l-2.9 0.2M281.8 66.9l-2.9 0.1M280.2 69.0l-2.9 0.1M278.7 71.0l-2.9 0.2M279.0 67.0l-2.9 0.1M277.4 69.1l-2.9 0.1M277.7 64.9l-2.9 -0.0M276.1 67.0l-2.9 0.0M276.4 62.9l-2.9 -0.1M274.8 64.9l-2.9 -0.1M273.3 67.1l-2.9 -0.0M275.1 60.8l-2.9 -0.1M273.6 62.8l-2.9 -0.1M272.0 64.9l-2.9 -0.1M272.3 60.7l-2.9 -0.2M270.7 62.7l-2.9 -0.1M271.0 58.6l-2.9 -0.2M269.4 60.5l-2.9 -0.2M267.8 62.5l-2.9 -0.1M269.7 56.5l-2.9 -0.2M268.1 58.4l-2.9 -0.2M266.6 60.3l-2.9 -0.2M266.9 56.2l-2.9 -0.2M265.3 58.2l-2.9 -0.2M263.7 60.2l-2.9 -0.2M265.6 54.1l-2.9 -0.3M264.0 56.0l-2.9 -0.3M262.4 57.9l-2.9 -0.2M264.3 51.9l-2.9 -0.3M262.7 53.8l-2.9 -0.3M261.2 55.7l-2.9 -0.2M261.5 51.6l-2.9 -0.3M259.9 53.5l-2.9 -0.3M258.3 55.5l-2.9 -0.3M260.2 49.5l-2.9 -0.3M258.6 51.3l-2.9 -0.3M257.0 53.2l-2.9 -0.3M258.9 47.4l-2.9 -0.4M257.3 49.2l-2.9 -0.4M255.7 51.0l-2.9 -0.3M254.2 52.9l-2.9 -0.3M256.0 47.0l-2.9 -0.4M254.5 48.8l-2.9 -0.4M252.9 50.7l-2.9 -0.3M254.8 44.8l-2.9 -0.4M253.2 46.6l-2.9 -0.4M251.6 48.4l-2.9 -0.4M250.0 50.3l-2.9 -0.4M251.9 44.4l-2.9 -0.5M250.3 46.2l-2.9 -0.4M248.8 48.1l-2.9 -0.4M250.6 42.2l-2.9 -0.5M249.1 44.0l-2.9 -0.5M247.5 45.8l-2.9 -0.5M245.9 47.6l-2.9 -0.5M247.8 41.7l-2.9 -0.5M246.2 43.5l-2.9 -0.5M244.6 45.3l-2.9 -0.5M246.5 39.5l-2.9 -0.5M244.9 41.2l-2.9 -0.5M243.3 43.0l-2.9 -0.5M241.8 44.8l-2.9 -0.5M243.6 39.0l-2.9 -0.5M242.1 40.7l-2.9 -0.5M240.5 42.5l-2.9 -0.5M238.9 44.3l-2.9 -0.5M240.8 38.5l-2.9 -0.5M239.2 40.2l-2.9 -0.5M237.6 42.0l-2.9 -0.5M239.5 36.2l-2.9 -0.5M237.9 38.0l-2.9 -0.5M236.4 39.7l-2.9 -0.5M234.8 41.5l-2.9 -0.5M236.7 35.7l-2.9 -0.5M235.1 37.5l-2.9 -0.5M233.5 39.2l-2.9 -0.5M235.4 33.5l-2.9 -0.5M233.8 35.2l-2.9 -0.5M232.2 37.0l-2.9 -0.5M230.6 38.8l-2.9 -0.5M232.5 33.0l-2.9 -0.5M230.9 34.7l-2.9 -0.5M229.4 36.5l-2.9 -0.5M231.2 30.9l-2.9 -0.5M229.7 32.4l-2.9 -0.5M228.1 34.2l-2.9 -0.5M226.5 36.0l-2.9 -0.5M230.0 29.0l-2.9 -0.5M228.4 30.3l-2.9 -0.5M226.8 31.9l-2.9 -0.5M225.2 33.7l-2.9 -0.5M223.7 35.5l-2.9 -0.5"/>
<path stroke="#f7db2b" d="M292.5 87.6l-2.9 1.2M290.9 89.5l-2.9 1.3M289.3 91.6l-2.9 1.5M292.8 84.9l-2.9 0.6M291.2 86.7l-2.9 0.7M289.6 88.8l-2.9 0.8M291.5 83.7l-2.9 0.7M289.9 85.5l-2.9 0.8M288.3 87.5l-2.9 0.9M291.8 80.8l-2.9 0.7M290.2 82.5l-2.9 0.7M288.6 84.4l-2.9 0.8M292.1 77.9l-2.9 0.6M290.5 79.6l-2.9 0.6M288.9 81.4l-2.9 0.7M287.3 83.3l-2.9 0.8M292.4 75.2l-2.9 0.5M290.8 76.8l-2.9 0.6M289.2 78.5l-2.9 0.7M287.6 80.3l-2.9 0.7M292.7 72.5l-2.9 0.4M291.1 74.0l-2.9 0.5M289.5 75.7l-2.9 0.6M287.9 77.4l-2.9 0.6M291.4 71.2l-2.9 0.4M289.8 72.9l-2.9 0.5M288.2 74.5l-2.9 0.5M286.6 76.2l-2.9 0.6M291.7 68.1l-2.9 0.3M290.1 69.9l-2.9 0.3M288.5 71.6l-2.9 0.4M286.9 73.3l-2.9 0.5M290.4 66.5l-2.9 0.2M288.8 68.4l-2.9 0.2M287.2 70.2l-2.9 0.3M289.1 64.8l-2.9 0.1M287.5 66.7l-2.9 0.1M286.0 68.6l-2.9 0.2M287.8 63.0l-2.9 -0.0M286.3 64.8l-2.9 0.0M284.7 66.8l-2.9 0.1M286.5 61.2l-2.9 -0.1M285.0 63.0l-2.9 -0.0M283.4 64.9l-2.9 0.0M285.3 59.4l-2.9 -0.1M283.7 61.1l-2.9 -0.1M282.1 62.9l-2.9 -0.0M280.5 64.9l-2.9 0.0M284.0 57.5l-2.9 -0.2M282.4 59.2l-2.9 -0.1M280.8 61.0l-2.9 -0.1M279.3 62.9l-2.9 -0.1M281.1 57.3l-2.9 -0.2M279.6 59.1l-2.9 -0.2M278.0 60.9l-2.9 -0.1M279.9 55.4l-2.9 -0.2M278.3 57.1l-2.9 -0.2M276.7 58.9l-2.9 -0.2M278.6 53.4l-2.9 -0.3M277.0 55.1l-2.9 -0.3M275.4 56.9l-2.9 -0.2M273.9 58.8l-2.9 -0.2M277.3 51.5l-2.9 -0.3M275.7 53.1l-2.9 -0.3M274.1 54.9l-2.9 -0.3M272.6 56.7l-2.9 -0.2M276.0 49.5l-2.9 -0.4M274.4 51.2l-2.9 -0.3M272.9 52.8l-2.9 -0.3M271.3 54.6l-2.9 -0.3M273.2 49.2l-2.9 -0.4M271.6 50.8l-2.9 -0.3M270.0 52.5l-2.9 -0.3M268.4 54.3l-2.9 -0.3M271.9 47.2l-2.9 -0.4M270.3 48.8l-2.9 -0.4M268.7 50.5l-2.9 -0.3M267.2 52.2l-2.9 -0.3M270.6 45.2l-2.9 -0.4M269.0 46.8l-2.9 -0.4M267.5 48.5l-2.9 -0.4M265.9 50.2l-2.9 -0.3M267.7 44.8l-2.9 -0.4M266.2 46.5l-2.9 -0.4M264.6 48.1l-2.9 -0.4M263.0 49.8l-2.9 -0.3M266.5 42.8l-2.9 -0.4M264.9 44.4l-2.9 -0.4M263.3 46.1l-2.9 -0.4M261.7 47.8l-2.9 -0.4M265.2 40.8l-2.9 -0.5M263.6 42.4l-2.9 -0.5M262.0 44.0l-2.9 -0.4M260.5 45.7l-2.9 -0.4M262.3 40.3l-2.9 -0.5M260.8 41.9l-2.9 -0.5M259.2 43.6l-2.9 -0.4M257.6 45.3l-2.9 -0.4M261.1 38.2l-2.9 -0.5M259.5 39.8l-2.9 -0.5M257.9 41.5l-2.9 -0.5M256.3 43.1l-2.9 -0.4M258.2 37.7l-2.9 -0.5M256.6 39.3l-2.9 -0.5M255.1 41.0l-2.9 -0.5M253.5 42.7l-2.9 -0.5M256.9 35.6l-2.9 -0.5M255.3 37.2l-2.9 -0.5M253.8 38.8l-2.9 -0.5M252.2 40.5l-2.9 -0.5M255.6 33.8l-2.9 -0.5M254.1 35.1l-2.9 -0.5M252.5 36.6l-2.9 -0.5M250.9 38.3l-2.9 -0.5M249.3 40.0l-2.9 -0.5M254.4 32.0l-2.9 -0.5M252.8 33.2l-2.9 -0.5M251.2 34.6l-2.9 -0.5M249.6 36.1l-2.9 -0.5M248.1 37.8l-2.9 -0.5M254.7 29.1l-2.9 -0.5M253.1 30.2l-2.9 -0.5M251.5 31.4l-2.9 -0.5M249.9 32.7l-2.9 -0.5M248.4 34.0l-2.9 -0.5M246.8 35.6l-2.9 -0.5M245.2 37.3l-2.9 -0.5M253.4 27.5l-2.9 -0.5M251.8 28.5l-2.9 -0.5M250.2 29.7l-2.9 -0.5M248.7 30.9l-2.9 -0.5M247.1 32.2l-2.9 -0.5M245.5 33.5l-2.9 -0.5M243.9 35.1l-2.9 -0.5M242.4 36.7l-2.9 -0.5M250.5 27.0l-2.9 -0.5M248.9 28.0l-2.9 -0.5M247.4 29.1l-2.9 -0.5M245.8 30.4l-2.9 -0.5M244.2 31.6l-2.9 -0.5M242.7 33.0l-2.9 -0.5M241.1 34.5l-2.9 -0.5M247.7 26.5l-2.9 -0.5M246.1 27.5l-2.9 -0.5M244.5 28.6l-2.9 -0.5M242.9 29.8l-2.9 -0.5M241.4 31.1l-2.9 -0.5M239.8 32.4l-2.9 -0.5M238.2 34.0l-2.9 -0.5M244.8 26.0l-2.9 -0.5M243.2 27.0l-2.9 -0.5M241.7 28.1l-2.9 -0.5M240.1 29.3l-2.9 -0.5M238.5 30.6l-2.9 -0.5M236.9 31.9l-2.9 -0.5M242.0 25.4l-2.9 -0.5M240.4 26.4l-2.9 -0.5M238.8 27.6l-2.9 -0.5M237.2 28.8l-2.9 -0.5M235.7 30.0l-2.9 -0.5M234.1 31.4l-2.9 -0.5M239.1 24.9l-2.9 -0.5M237.5 25.9l-2.9 -0.5M236.0 27.0l-2.9 -0.5M234.4 28.2l-2.9 -0.5M232.8 29.5l-2.9 -0.5M236.3 24.4l-2.9 -0.5M234.7 25.4l-2.9 -0.5M233.1 26.5l-2.9 -0.5M231.5 27.7l-2.9 -0.5"/>
<path stroke="#f5e327" d="M298.8 80.7l-2.9 0.7M297.2 82.3l-2.9 0.8M295.6 83.9l-2.9 0.9M294.0 85.7l-2.9 1.1M299.0 78.3l-2.9 0.3M297.5 79.8l-2.9 0.4M295.9 81.4l-2.9 0.5M294.3 83.1l-2.9 0.6M299.3 75.6l-2.9 0.3M297.8 77.1l-2.9 0.4M296.2 78.6l-2.9 0.4M294.6 80.2l-2.9 0.5M293.0 81.9l-2.9 0.6M299.6 72.9l-2.9 0.3M298.1 74.4l-2.9 0.4M296.5 75.9l-2.9 0.4M294.9 77.4l-2.9 0.5M293.3 79.1l-2.9 0.6M299.9 70.3l-2.9 0.3M298.4 71.8l-2.9 0.3M296.8 73.2l-2.9 0.4M295.2 74.7l-2.9 0.4M293.6 76.3l-2.9 0.5M298.7 69.0l-2.9 0.3M297.1 70.6l-2.9 0.3M295.5 72.1l-2.9 0.4M293.9 73.6l-2.9 0.4M298.9 65.9l-2.9 0.2M297.4 67.6l-2.9 0.2M295.8 69.3l-2.9 0.3M294.2 70.9l-2.9 0.4M297.7 64.4l-2.9 0.1M296.1 66.1l-2.9 0.2M294.5 67.8l-2.9 0.3M292.9 69.6l-2.9 0.3M296.4 62.8l-2.9 0.1M294.8 64.5l-2.9 0.1M293.2 66.3l-2.9 0.2M296.7 59.7l-2.9 -0.1M295.1 61.3l-2.9 -0.0M293.5 62.9l-2.9 0.0M292.0 64.7l-2.9 0.1M295.4 58.1l-2.9 -0.1M293.8 59.6l-2.9 -0.1M292.3 61.3l-2.9 -0.0M290.7 62.9l-2.9 0.0M294.1 56.4l-2.9 -0.2M292.5 57.9l-2.9 -0.1M291.0 59.6l-2.9 -0.1M289.4 61.2l-2.9 -0.1M292.8 54.7l-2.9 -0.2M291.3 56.2l-2.9 -0.2M289.7 57.8l-2.9 -0.2M288.1 59.5l-2.9 -0.1M291.6 52.9l-2.9 -0.3M290.0 54.4l-2.9 -0.2M288.4 56.0l-2.9 -0.2M286.8 57.6l-2.9 -0.2M290.3 51.2l-2.9 -0.3M288.7 52.7l-2.9 -0.3M287.1 54.2l-2.9 -0.2M285.6 55.8l-2.9 -0.2M289.0 49.4l-2.9 -0.4M287.4 50.9l-2.9 -0.3M285.9 52.4l-2.9 -0.3M284.3 53.9l-2.9 -0.3M282.7 55.6l-2.9 -0.2M287.7 47.7l-2.9 -0.4M286.1 49.1l-2.9 -0.4M284.6 50.6l-2.9 -0.3M283.0 52.1l-2.9 -0.3M281.4 53.7l-2.9 -0.3M286.4 45.9l-2.9 -0.4M284.9 47.3l-2.9 -0.4M283.3 48.7l-2.9 -0.4M281.7 50.2l-2.9 -0.3M280.1 51.8l-2.9 -0.3M285.2 44.0l-2.9 -0.5M283.6 45.4l-2.9 -0.4M282.0 46.9l-2.9 -0.4M280.4 48.4l-2.9 -0.4M278.9 49.9l-2.9 -0.3M283.9 42.1l-2.9 -0.5M282.3 43.5l-2.9 -0.5M280.7 45.0l-2.9 -0.4M279.2 46.5l-2.9 -0.4M277.6 48.0l-2.9 -0.4M282.6 40.2l-2.9 -0.5M281.0 41.6l-2.9 -0.5M279.5 43.1l-2.9 -0.5M277.9 44.6l-2.9 -0.4M276.3 46.1l-2.9 -0.4M274.7 47.6l-2.9 -0.4M281.3 38.4l-2.9 -0.5M279.8 39.7l-2.9 -0.5M278.2 41.1l-2.9 -0.5M276.6 42.6l-2.9 -0.5M275.0 44.1l-2.9 -0.4M273.5 45.7l-2.9 -0.4M280.0 36.7l-2.9 -0.5M278.5 37.9l-2.9 -0.5M276.9 39.2l-2.9 -0.5M275.3 40.6l-2.9 -0.5M273.7 42.1l-2.9 -0.5M272.2 43.7l-2.9 -0.4M278.8 35.0l-2.9 -0.5M277.2 36.2l-2.9 -0.5M275.6 37.4l-2.9 -0.5M274.0 38.7l-2.9 -0.5M272.5 40.1l-2.9 -0.5M270.9 41.7l-2.9 -0.5M269.3 43.3l-2.9 -0.4M279.1 32.3l-2.9 -0.5M277.5 33.3l-2.9 -0.5M275.9 34.5l-2.9 -0.5M274.3 35.7l-2.9 -0.5M272.8 36.9l-2.9 -0.5M271.2 38.2l-2.9 -0.5M269.6 39.7l-2.9 -0.5M268.0 41.2l-2.9 -0.5M276.2 31.8l-2.9 -0.5M274.6 32.8l-2.9 -0.5M273.1 33.9l-2.9 -0.5M271.5 35.1l-2.9 -0.5M269.9 36.4l-2.9 -0.5M268.3 37.7l-2.9 -0.5M266.8 39.2l-2.9 -0.5M273.4 31.2l-2.9 -0.5M271.8 32.3l-2.9 -0.5M270.2 33.4l-2.9 -0.5M268.6 34.6l-2.9 -0.5M267.1 35.9l-2.9 -0.5M265.5 37.2l-2.9 -0.5M263.9 38.7l-2.9 -0.5M270.5 30.7l-2.9 -0.5M268.9 31.7l-2.9 -0.5M267.4 32.9l-2.9 -0.5M265.8 34.1l-2.9 -0.5M264.2 35.3l-2.9 -0.5M262.6 36.7l-2.9 -0.5M267.6 30.2l-2.9 -0.5M266.1 31.2l-2.9 -0.5M264.5 32.3l-2.9 -0.5M262.9 33.6l-2.9 -0.5M261.3 34.8l-2.9 -0.5M259.8 36.2l-2.9 -0.5M264.8 29.6l-2.9 -0.5M263.2 30.7l-2.9 -0.5M261.6 31.8l-2.9 -0.5M260.1 33.0l-2.9 -0.5M258.5 34.3l-2.9 -0.5M261.9 29.1l-2.9 -0.5M260.4 30.1l-2.9 -0.5M258.8 31.3l-2.9 -0.5M257.2 32.5l-2.9 -0.5M259.1 28.6l-2.9 -0.5M257.5 29.6l-2.9 -0.5M255.9 30.7l-2.9 -0.5M256.2 28.1l-2.9 -0.5"/>
<path stroke="#f5eb23" d="M308.2 72.3l-2.9 0.3M306.6 73.6l-2.9 0.3M305.1 74.9l-2.9 0.4M303.5 76.3l-2.9 0.5M301.9 77.7l-2.9 0.6M300.3 79.2l-2.9 0.6M308.5 69.9l-2.9 0.0M306.9 71.3l-2.9 0.1M305.3 72.6l-2.9 0.1M303.8 73.9l-2.9 0.2M302.2 75.3l-2.9 0.2M300.6 76.8l-2.9 0.3M308.8 67.2l-2.9 0.0M307.2 68.6l-2.9 0.1M305.6 70.0l-2.9 0.1M304.1 71.4l-2.9 0.2M302.5 72.7l-2.9 0.2M300.9 74.1l-2.9 0.3M307.5 65.7l-2.9 0.0M305.9 67.2l-2.9 0.1M304.4 68.7l-2.9 0.1M302.8 70.1l-2.9 0.2M301.2 71.5l-2.9 0.2M307.8 62.8l-2.9 -0.0M306.2 64.2l-2.9 0.0M304.7 65.8l-2.9 0.1M303.1 67.3l-2.9 0.1M301.5 68.8l-2.9 0.2M308.1 60.0l-2.9 -0.1M306.5 61.3l-2.9 -0.1M304.9 62.7l-2.9 -0.0M303.4 64.3l-2.9 0.1M301.8 65.8l-2.9 0.1M300.2 67.4l-2.9 0.2M306.8 58.5l-2.9 -0.1M305.2 59.9l-2.9 -0.1M303.7 61.3l-2.9 -0.0M302.1 62.7l-2.9 0.0M300.5 64.3l-2.9 0.1M307.1 55.7l-2.9 -0.2M305.5 57.0l-2.9 -0.2M304.0 58.4l-2.9 -0.1M302.4 59.8l-2.9 -0.1M300.8 61.2l-2.9 0.0M299.2 62.8l-2.9 0.1M307.4 52.9l-2.9 -0.3M305.8 54.2l-2.9 -0.2M304.3 55.5l-2.9 -0.2M302.7 56.8l-2.9 -0.1M301.1 58.3l-2.9 -0.1M299.5 59.7l-2.9 -0.0M298.0 61.3l-2.9 0.0M307.7 50.2l-2.9 -0.3M306.1 51.4l-2.9 -0.3M304.6 52.7l-2.9 -0.3M303.0 54.0l-2.9 -0.2M301.4 55.3l-2.9 -0.2M299.8 56.7l-2.9 -0.2M298.3 58.2l-2.9 -0.1M306.4 48.7l-2.9 -0.4M304.8 49.9l-2.9 -0.4M303.3 51.1l-2.9 -0.3M301.7 52.4l-2.9 -0.3M300.1 53.7l-2.9 -0.2M298.5 55.1l-2.9 -0.2M297.0 56.5l-2.9 -0.2M306.7 45.8l-2.9 -0.5M305.1 47.0l-2.9 -0.4M303.6 48.3l-2.9 -0.4M302.0 49.5l-2.9 -0.4M300.4 50.8l-2.9 -0.3M298.8 52.1l-2.9 -0.3M297.3 53.5l-2.9 -0.3M295.7 54.9l-2.9 -0.2M305.4 44.1l-2.9 -0.5M303.9 45.3l-2.9 -0.5M302.3 46.6l-2.9 -0.4M300.7 47.9l-2.9 -0.4M299.1 49.2l-2.9 -0.4M297.6 50.5l-2.9 -0.3M296.0 51.8l-2.9 -0.3M294.4 53.2l-2.9 -0.3M305.7 41.3l-2.9 -0.5M304.2 42.5l-2.9 -0.5M302.6 43.6l-2.9 -0.5M301.0 44.9l-2.9 -0.5M299.4 46.2l-2.9 -0.4M297.9 47.5l-2.9 -0.4M296.3 48.8l-2.9 -0.4M294.7 50.1l-2.9 -0.3M293.1 51.5l-2.9 -0.3M304.4 39.7l-2.9 -0.5M302.9 40.8l-2.9 -0.5M301.3 42.0l-2.9 -0.5M299.7 43.2l-2.9 -0.5M298.2 44.4l-2.9 -0.5M296.6 45.7l-2.9 -0.4M295.0 47.1l-2.9 -0.4M293.4 48.4l-2.9 -0.4M291.9 49.8l-2.9 -0.3M304.7 37.0l-2.9 -0.5M303.2 38.1l-2.9 -0.5M301.6 39.2l-2.9 -0.5M300.0 40.3l-2.9 -0.5M298.4 41.5l-2.9 -0.5M296.9 42.7l-2.9 -0.5M295.3 44.0l-2.9 -0.5M293.7 45.3l-2.9 -0.4M292.2 46.7l-2.9 -0.4M290.6 48.1l-2.9 -0.4M301.9 36.5l-2.9 -0.5M300.3 37.5l-2.9 -0.5M298.7 38.6l-2.9 -0.5M297.2 39.8l-2.9 -0.5M295.6 41.0l-2.9 -0.5M294.0 42.2l-2.9 -0.5M292.4 43.5l-2.9 -0.5M290.9 44.9l-2.9 -0.4M289.3 46.3l-2.9 -0.4M299.0 36.0l-2.9 -0.5M297.5 37.0l-2.9 -0.5M295.9 38.1l-2.9 -0.5M294.3 39.3l-2.9 -0.5M292.7 40.5l-2.9 -0.5M291.2 41.7l-2.9 -0.5M289.6 43.0l-2.9 -0.5M288.0 44.4l-2.9 -0.5M296.2 35.4l-2.9 -0.5M294.6 36.5l-2.9 -0.5M293.0 37.6l-2.9 -0.5M291.5 38.8l-2.9 -0.5M289.9 40.0l-2.9 -0.5M288.3 41.2l-2.9 -0.5M286.7 42.5l-2.9 -0.5M293.3 34.9l-2.9 -0.5M291.8 36.0l-2.9 -0.5M290.2 37.1l-2.9 -0.5M288.6 38.2l-2.9 -0.5M287.0 39.4l-2.9 -0.5M285.5 40.7l-2.9 -0.5M290.5 34.4l-2.9 -0.5M288.9 35.4l-2.9 -0.5M287.3 36.6l-2.9 -0.5M285.8 37.7l-2.9 -0.5M284.2 38.9l-2.9 -0.5M287.6 33.9l-2.9 -0.5M286.0 34.9l-2.9 -0.5M284.5 36.0l-2.9 -0.5M282.9 37.2l-2.9 -0.5M284.8 33.3l-2.9 -0.5M283.2 34.4l-2.9 -0.5M281.6 35.5l-2.9 -0.5M281.9 32.8l-2.9 -0.5M280.3 33.8l-2.9 -0.5"/>
<path stroke="#f7f31d" d="M320.8 62.1l-2.9 -0.2M319.2 63.3l-2.9 -0.1M317.6 64.6l-2.9 -0.1M316.1 65.9l-2.9 -0.0M314.5 67.2l-2.9 0.1M312.9 68.5l-2.9 0.1M311.3 69.8l-2.9 0.2M309.8 71.0l-2.9 0.2M321.1 59.6l-2.9 -0.3M319.5 60.8l-2.9 -0.3M317.9 62.0l-2.9 -0.2M316.4 63.2l-2.9 -0.2M314.8 64.5l-2.9 -0.1M313.2 65.9l-2.9 -0.1M311.6 67.2l-2.9 -0.0M310.1 68.6l-2.9 0.0M323.0 55.9l-2.9 -0.3M321.4 57.0l-2.9 -0.3M319.8 58.2l-2.9 -0.3M318.2 59.3l-2.9 -0.3M316.7 60.5l-2.9 -0.2M315.1 61.8l-2.9 -0.2M313.5 63.0l-2.9 -0.1M311.9 64.4l-2.9 -0.1M310.4 65.8l-2.9 -0.0M324.8 52.4l-2.9 -0.4M323.2 53.5l-2.9 -0.4M321.7 54.5l-2.9 -0.3M320.1 55.6l-2.9 -0.3M318.5 56.7l-2.9 -0.3M317.0 57.9l-2.9 -0.3M315.4 59.1l-2.9 -0.2M313.8 60.3l-2.9 -0.2M312.2 61.6l-2.9 -0.1M310.7 62.9l-2.9 -0.1M309.1 64.3l-2.9 -0.0M326.7 48.9l-2.9 -0.4M325.1 49.9l-2.9 -0.4M323.5 51.0l-2.9 -0.4M322.0 52.0l-2.9 -0.4M320.4 53.1l-2.9 -0.4M318.8 54.2l-2.9 -0.3M317.2 55.3l-2.9 -0.3M315.7 56.4l-2.9 -0.3M314.1 57.6l-2.9 -0.2M312.5 58.8l-2.9 -0.2M311.0 60.1l-2.9 -0.1M309.4 61.4l-2.9 -0.1M328.6 45.3l-2.9 -0.5M327.0 46.3l-2.9 -0.5M325.4 47.4l-2.9 -0.5M323.8 48.4l-2.9 -0.4M322.3 49.5l-2.9 -0.4M320.7 50.6l-2.9 -0.4M319.1 51.6l-2.9 -0.4M317.5 52.7l-2.9 -0.3M316.0 53.8l-2.9 -0.3M314.4 55.0l-2.9 -0.3M312.8 56.1l-2.9 -0.2M311.2 57.4l-2.9 -0.2M309.7 58.7l-2.9 -0.2M330.4 41.8l-2.9 -0.5M328.9 42.8l-2.9 -0.5M327.3 43.8l-2.9 -0.5M325.7 44.8l-2.9 -0.5M324.1 45.9l-2.9 -0.5M322.6 46.9l-2.9 -0.5M321.0 48.0l-2.9 -0.4M319.4 49.1l-2.9 -0.4M317.8 50.2l-2.9 -0.4M316.3 51.3l-2.9 -0.4M314.7 52.4l-2.9 -0.3M313.1 53.5l-2.9 -0.3M311.5 54.7l-2.9 -0.3M310.0 55.9l-2.9 -0.2M308.4 57.2l-2.9 -0.2M327.6 41.2l-2.9 -0.5M326.0 42.2l-2.9 -0.5M324.4 43.3l-2.9 -0.5M322.9 44.3l-2.9 -0.5M321.3 45.4l-2.9 -0.5M319.7 46.4l-2.9 -0.5M318.1 47.5l-2.9 -0.4M316.6 48.7l-2.9 -0.4M315.0 49.8l-2.9 -0.4M313.4 50.9l-2.9 -0.3M311.8 52.1l-2.9 -0.3M310.3 53.2l-2.9 -0.3M308.7 54.4l-2.9 -0.2M324.7 40.7l-2.9 -0.5M323.1 41.7l-2.9 -0.5M321.6 42.8l-2.9 -0.5M320.0 43.8l-2.9 -0.5M318.4 44.9l-2.9 -0.5M316.8 46.0l-2.9 -0.5M315.3 47.1l-2.9 -0.4M313.7 48.3l-2.9 -0.4M312.1 49.4l-2.9 -0.4M310.6 50.6l-2.9 -0.3M309.0 51.7l-2.9 -0.3M321.9 40.2l-2.9 -0.5M320.3 41.2l-2.9 -0.5M318.7 42.3l-2.9 -0.5M317.1 43.3l-2.9 -0.5M315.6 44.4l-2.9 -0.5M314.0 45.5l-2.9 -0.5M312.4 46.7l-2.9 -0.4M310.8 47.9l-2.9 -0.4M309.3 49.0l-2.9 -0.4M319.0 39.6l-2.9 -0.5M317.4 40.7l-2.9 -0.5M315.9 41.7l-2.9 -0.5M314.3 42.8l-2.9 -0.5M312.7 43.9l-2.9 -0.5M311.1 45.1l-2.9 -0.5M309.6 46.2l-2.9 -0.4M308.0 47.4l-2.9 -0.4M316.2 39.1l-2.9 -0.5M314.6 40.2l-2.9 -0.5M313.0 41.2l-2.9 -0.5M311.4 42.3l-2.9 -0.5M309.9 43.4l-2.9 -0.5M308.3 44.6l-2.9 -0.5M313.3 38.6l-2.9 -0.5M311.7 39.6l-2.9 -0.5M310.2 40.7l-2.9 -0.5M308.6 41.8l-2.9 -0.5M307.0 43.0l-2.9 -0.5M310.5 38.1l-2.9 -0.5M308.9 39.1l-2.9 -0.5M307.3 40.2l-2.9 -0.5M307.6 37.5l-2.9 -0.5M306.0 38.6l-2.9 -0.5"/>
<path stroke="#f9fb15" d="M347.6 44.9l-2.9 -0.5M346.0 45.9l-2.9 -0.5M344.4 46.8l-2.9 -0.5M342.8 47.8l-2.9 -0.5M341.3 48.8l-2.9 -0.5M339.7 49.7l-2.9 -0.5M338.1 50.7l-2.9 -0.5M336.5 51.7l-2.9 -0.4M335.0 52.7l-2.9 -0.4M333.4 53.6l-2.9 -0.4M331.8 54.6l-2.9 -0.4M330.2 55.6l-2.9 -0.4M328.7 56.6l-2.9 -0.3M327.1 57.7l-2.9 -0.3M325.5 58.8l-2.9 -0.3M323.9 59.9l-2.9 -0.2M322.4 61.0l-2.9 -0.2M344.7 44.4l-2.9 -0.5M343.1 45.4l-2.9 -0.5M341.5 46.3l-2.9 -0.5M340.0 47.3l-2.9 -0.5M338.4 48.3l-2.9 -0.5M336.8 49.3l-2.9 -0.5M335.3 50.3l-2.9 -0.5M333.7 51.3l-2.9 -0.5M332.1 52.3l-2.9 -0.4M330.5 53.2l-2.9 -0.4M329.0 54.2l-2.9 -0.4M327.4 55.3l-2.9 -0.4M325.8 56.3l-2.9 -0.4M324.2 57.4l-2.9 -0.3M322.7 58.5l-2.9 -0.3M341.8 43.9l-2.9 -0.5M340.3 44.8l-2.9 -0.5M338.7 45.8l-2.9 -0.5M337.1 46.8l-2.9 -0.5M335.5 47.8l-2.9 -0.5M334.0 48.8l-2.9 -0.5M332.4 49.8l-2.9 -0.5M330.8 50.8l-2.9 -0.4M329.2 51.8l-2.9 -0.4M327.7 52.8l-2.9 -0.4M326.1 53.8l-2.9 -0.4M324.5 54.9l-2.9 -0.4M339.0 43.3l-2.9 -0.5M337.4 44.3l-2.9 -0.5M335.8 45.3l-2.9 -0.5M334.3 46.3l-2.9 -0.5M332.7 47.3l-2.9 -0.5M331.1 48.3l-2.9 -0.5M329.5 49.3l-2.9 -0.5M328.0 50.4l-2.9 -0.4M326.4 51.4l-2.9 -0.4M336.1 42.8l-2.9 -0.5M334.6 43.8l-2.9 -0.5M333.0 44.8l-2.9 -0.5M331.4 45.8l-2.9 -0.5M329.8 46.8l-2.9 -0.5M328.3 47.8l-2.9 -0.5M333.3 42.3l-2.9 -0.5M331.7 43.3l-2.9 -0.5M330.1 44.3l-2.9 -0.5"/>
</g>
<g fill="none" stroke-width="1.0" stroke-linecap="round">
<path stroke="#34c79c" d="M217.7 123.7l-1.6 4.1M214.8 123.7l-1.6 4.0M212.0 123.4l-1.6 4.0M209.1 123.2l-1.6 3.9M207.8 119.0l-1.6 3.8M206.3 122.8l-1.6 3.8M205.0 118.3l-1.6 3.7M203.4 121.9l-1.6 3.7M200.5 120.7l-1.6 3.6M197.7 119.5l-1.6 3.5M194.8 118.6l-1.6 3.4M192.0 117.7l-1.6 3.3M189.1 116.8l-1.6 3.2M186.3 115.9l-1.6 3.1M183.4 115.0l-1.6 3.0M180.6 114.2l-1.6 2.9M177.7 113.3l-1.6 2.8M176.4 109.6l-1.6 2.8M174.9 112.5l-1.6 2.8M173.6 108.9l-1.6 2.8M172.0 111.6l-1.6 2.7"/>
<path stroke="#3dc990" d="M226.2 123.4l-1.6 4.2M223.4 123.5l-1.6 4.2M220.5 123.6l-1.6 4.1M219.2 119.7l-1.6 4.0M216.4 119.7l-1.6 4.0M213.5 119.5l-1.6 3.9M210.7 119.3l-1.6 3.8M209.4 115.3l-1.6 3.7M206.6 114.6l-1.6 3.6M203.7 113.6l-1.6 3.5M202.1 117.1l-1.6 3.6M200.8 112.6l-1.6 3.5M199.3 116.0l-1.6 3.5M198.0 111.8l-1.6 3.4M196.4 115.2l-1.6 3.4M195.1 111.0l-1.6 3.3M193.6 114.4l-1.6 3.3M192.3 110.3l-1.6 3.2M190.7 113.6l-1.6 3.2M189.4 109.6l-1.6 3.2M187.9 112.8l-1.6 3.1M186.6 108.9l-1.6 3.1M185.0 112.0l-1.6 3.1M183.7 108.2l-1.6 3.0M182.1 111.2l-1.6 3.0M180.9 107.4l-1.6 3.0M179.3 110.4l-1.6 2.9M178.0 106.7l-1.6 2.9M175.2 106.0l-1.6 2.8"/>
<path stroke="#4bcb84" d="M234.8 122.6l-1.6 4.3M231.9 122.9l-1.6 4.3M229.1 123.2l-1.6 4.3M227.8 119.3l-1.6 4.1M225.0 119.4l-1.6 4.1M222.1 119.6l-1.6 4.0M220.8 115.8l-1.6 3.9M218.0 115.8l-1.6 3.9M215.1 115.7l-1.6 3.8M213.8 111.9l-1.6 3.7M212.3 115.6l-1.6 3.8M211.0 111.6l-1.6 3.7M208.1 111.0l-1.6 3.6M205.3 110.0l-1.6 3.5M202.4 109.1l-1.6 3.4M199.6 108.4l-1.6 3.4M196.7 107.7l-1.6 3.3M193.9 107.1l-1.6 3.3M191.0 106.4l-1.6 3.2M188.1 105.7l-1.6 3.1M185.3 105.1l-1.6 3.1M182.4 104.4l-1.6 3.0M181.2 100.6l-1.6 3.1M179.6 103.7l-1.6 3.0M178.3 100.0l-1.6 3.1M176.7 103.1l-1.6 2.9"/>
<path stroke="#5ccc76" d="M240.5 121.6l-1.6 4.3M237.6 122.2l-1.6 4.3M236.4 118.4l-1.6 4.2M233.5 118.8l-1.6 4.2M230.7 119.1l-1.6 4.1M229.4 115.3l-1.6 4.0M226.5 115.5l-1.6 3.9M223.7 115.7l-1.6 3.9M222.4 112.0l-1.6 3.8M219.5 112.1l-1.6 3.8M216.7 112.0l-1.6 3.7M215.4 108.1l-1.6 3.7M212.6 107.9l-1.6 3.7M209.7 107.4l-1.6 3.7M206.8 106.4l-1.6 3.6M204.0 105.6l-1.6 3.5M201.1 104.9l-1.6 3.5M198.3 104.3l-1.6 3.4M195.4 103.7l-1.6 3.4M192.6 103.1l-1.6 3.3M191.3 99.1l-1.6 3.4M189.7 102.4l-1.6 3.3M188.4 98.5l-1.6 3.3M186.9 101.8l-1.6 3.2M185.6 97.9l-1.6 3.3M184.0 101.2l-1.6 3.2M182.7 97.4l-1.6 3.2M179.9 96.8l-1.6 3.2"/>
<path stroke="#6dcd67" d="M246.2 119.9l-1.6 4.3M243.4 120.9l-1.6 4.3M242.1 117.4l-1.6 4.2M239.2 118.0l-1.6 4.2M237.9 114.4l-1.6 4.0M235.1 114.8l-1.6 4.0M232.2 115.1l-1.6 4.0M231.0 111.5l-1.6 3.8M228.1 111.7l-1.6 3.8M226.8 108.1l-1.6 3.8M225.2 111.9l-1.6 3.8M224.0 108.2l-1.6 3.8M221.1 108.3l-1.6 3.8M219.8 104.5l-1.6 3.7M218.3 108.2l-1.6 3.8M217.0 104.4l-1.6 3.7M214.1 104.2l-1.6 3.7M211.3 103.7l-1.6 3.7M208.4 102.8l-1.6 3.6M205.6 102.0l-1.6 3.6M202.7 101.4l-1.6 3.5M201.4 97.4l-1.6 3.4M199.9 100.8l-1.6 3.5M198.6 96.9l-1.6 3.4M197.0 100.2l-1.6 3.4M195.7 96.3l-1.6 3.4M194.2 99.7l-1.6 3.4M192.9 95.8l-1.6 3.3M190.0 95.2l-1.6 3.3M187.2 94.6l-1.6 3.3M184.3 94.1l-1.6 3.3M183.0 90.4l-1.6 3.1M181.5 93.6l-1.6 3.2"/>
<path stroke="#81cc59" d="M249.1 118.8l-1.6 4.2M247.8 115.8l-1.6 4.1M244.9 116.7l-1.6 4.2M243.6 113.4l-1.6 4.0M240.8 114.0l-1.6 4.0M239.5 110.6l-1.6 3.8M236.7 111.0l-1.6 3.8M235.4 107.5l-1.6 3.8M233.8 111.3l-1.6 3.8M232.5 107.7l-1.6 3.8M229.7 107.9l-1.6 3.8M228.4 104.3l-1.6 3.7M225.5 104.5l-1.6 3.7M222.7 104.6l-1.6 3.7M221.4 100.9l-1.6 3.6M218.6 100.8l-1.6 3.6M215.7 100.6l-1.6 3.6M212.8 100.1l-1.6 3.6M210.0 99.3l-1.6 3.5M208.7 95.2l-1.6 3.3M207.1 98.6l-1.6 3.5M205.9 94.7l-1.6 3.3M204.3 98.0l-1.6 3.5M203.0 94.1l-1.6 3.3M200.2 93.6l-1.6 3.3M197.3 93.1l-1.6 3.2M194.4 92.5l-1.6 3.2M191.6 92.0l-1.6 3.2M190.3 88.4l-1.6 3.0M188.7 91.5l-1.6 3.2M187.5 87.9l-1.6 3.0M185.9 90.9l-1.6 3.2M184.6 87.4l-1.6 3.0"/>
<path stroke="#94ca4a" d="M254.8 116.2l-1.6 4.1M251.9 117.6l-1.6 4.2M250.6 114.8l-1.6 4.1M249.4 111.9l-1.6 3.9M246.5 112.8l-1.6 4.0M245.2 109.7l-1.6 3.8M242.4 110.2l-1.6 3.8M241.1 106.8l-1.6 3.8M238.2 107.2l-1.6 3.8M237.0 103.8l-1.6 3.7M234.1 104.0l-1.6 3.7M231.2 104.2l-1.6 3.7M230.0 100.8l-1.6 3.6M227.1 100.9l-1.6 3.6M225.8 97.5l-1.6 3.4M224.3 100.9l-1.6 3.6M223.0 97.5l-1.6 3.4M220.1 97.4l-1.6 3.4M218.8 94.0l-1.6 3.2M217.3 97.2l-1.6 3.4M216.0 93.5l-1.6 3.2M214.4 96.7l-1.6 3.4M213.1 92.8l-1.6 3.2M211.6 96.0l-1.6 3.4M210.3 92.1l-1.6 3.2M207.4 91.5l-1.6 3.1M204.6 91.0l-1.6 3.1M201.7 90.5l-1.6 3.1M200.4 87.0l-1.6 3.0M198.9 90.0l-1.6 3.1M197.6 86.5l-1.6 3.0M196.0 89.5l-1.6 3.1M194.7 86.0l-1.6 3.0M193.2 89.0l-1.6 3.0M191.9 85.5l-1.6 3.0M189.0 85.0l-1.6 3.0M187.8 81.5l-1.6 2.9M186.2 84.5l-1.6 3.0"/>
<path stroke="#a6c83c" d="M257.6 114.5l-1.6 4.0M256.3 112.3l-1.6 3.9M253.5 113.6l-1.6 4.0M252.2 110.9l-1.6 3.9M250.9 108.2l-1.6 3.7M248.1 109.0l-1.6 3.8M246.8 105.9l-1.6 3.7M245.5 102.8l-1.6 3.6M243.9 106.4l-1.6 3.7M242.7 103.2l-1.6 3.7M239.8 103.5l-1.6 3.7M238.5 100.2l-1.6 3.5M235.7 100.4l-1.6 3.5M234.4 97.3l-1.6 3.3M232.8 100.6l-1.6 3.6M231.5 97.4l-1.6 3.4M230.3 94.3l-1.6 3.2M228.7 97.5l-1.6 3.4M227.4 94.3l-1.6 3.2M224.6 94.3l-1.6 3.2M223.3 91.0l-1.6 3.1M221.7 94.2l-1.6 3.2M220.4 90.8l-1.6 3.1M217.6 90.4l-1.6 3.1M214.7 89.7l-1.6 3.1M211.9 89.0l-1.6 3.1M210.6 85.5l-1.6 3.0M209.0 88.5l-1.6 3.1M207.7 85.0l-1.6 3.0M206.2 88.0l-1.6 3.1M204.9 84.5l-1.6 3.0M203.3 87.5l-1.6 3.0M202.0 84.0l-1.6 3.0M199.2 83.5l-1.6 2.9M197.9 80.2l-1.6 2.8M196.3 83.0l-1.6 2.9M195.0 79.7l-1.6 2.8M193.5 82.5l-1.6 2.9M192.2 79.2l-1.6 2.8M190.6 82.0l-1.6 2.9M189.3 78.7l-1.6 2.8"/>
<path stroke="#b8c431" d="M260.5 112.7l-1.6 3.9M259.2 110.7l-1.6 3.8M257.9 108.6l-1.6 3.7M256.6 106.2l-1.6 3.6M255.1 109.8l-1.6 3.8M253.8 107.3l-1.6 3.6M252.5 104.6l-1.6 3.6M251.2 101.8l-1.6 3.5M249.7 105.3l-1.6 3.7M248.4 102.3l-1.6 3.6M247.1 99.4l-1.6 3.4M244.2 99.7l-1.6 3.5M243.0 96.7l-1.6 3.3M241.4 100.0l-1.6 3.5M240.1 97.0l-1.6 3.3M238.8 94.0l-1.6 3.1M237.3 97.1l-1.6 3.3M236.0 94.1l-1.6 3.2M234.7 91.2l-1.6 3.1M233.1 94.2l-1.6 3.2M231.8 91.2l-1.6 3.1M229.0 91.2l-1.6 3.1M227.7 88.1l-1.6 3.0M226.1 91.1l-1.6 3.1M224.9 88.0l-1.6 3.0M223.6 84.8l-1.6 2.9M222.0 87.8l-1.6 3.0M220.7 84.4l-1.6 2.9M219.1 87.3l-1.6 3.0M217.9 83.8l-1.6 2.9M216.3 86.7l-1.6 3.0M215.0 83.1l-1.6 2.9M213.4 86.0l-1.6 3.0M212.2 82.6l-1.6 2.9M209.3 82.1l-1.6 2.9M208.0 78.9l-1.6 2.7M206.4 81.7l-1.6 2.8M205.2 78.5l-1.6 2.7M203.6 81.2l-1.6 2.8M202.3 78.0l-1.6 2.7M200.7 80.7l-1.6 2.8M199.5 77.5l-1.6 2.7M198.2 74.5l-1.6 2.5M196.6 77.0l-1.6 2.7M195.3 74.0l-1.6 2.5M193.8 76.6l-1.6 2.7M192.5 73.6l-1.6 2.5M190.9 76.1l-1.6 2.7"/>
<path stroke="#c8c129" d="M263.3 110.6l-1.6 3.7M262.1 109.0l-1.6 3.7M260.8 107.1l-1.6 3.6M259.5 105.1l-1.6 3.5M258.2 102.7l-1.6 3.5M256.9 100.3l-1.6 3.4M255.4 103.7l-1.6 3.6M254.1 101.1l-1.6 3.5M252.8 98.4l-1.6 3.3M251.5 95.8l-1.6 3.1M249.9 99.0l-1.6 3.4M248.7 96.2l-1.6 3.2M247.4 93.5l-1.6 3.0M245.8 96.5l-1.6 3.2M244.5 93.7l-1.6 3.1M243.3 90.9l-1.6 3.0M241.7 93.8l-1.6 3.1M240.4 91.0l-1.6 3.0M239.1 88.1l-1.6 2.9M237.5 91.1l-1.6 3.0M236.3 88.2l-1.6 3.0M235.0 85.4l-1.6 2.9M233.4 88.2l-1.6 3.0M232.1 85.3l-1.6 2.9M230.6 88.2l-1.6 3.0M229.3 85.2l-1.6 2.9M228.0 82.3l-1.6 2.8M226.4 85.1l-1.6 2.9M225.1 82.1l-1.6 2.8M223.9 79.1l-1.6 2.6M222.3 81.7l-1.6 2.8M221.0 78.5l-1.6 2.6M219.4 81.0l-1.6 2.7M218.2 77.9l-1.6 2.5M216.6 80.4l-1.6 2.7M215.3 77.4l-1.6 2.5M213.7 79.9l-1.6 2.7M212.5 76.9l-1.6 2.5M210.9 79.4l-1.6 2.7M211.2 74.0l-1.6 2.4M209.6 76.4l-1.6 2.5M208.3 73.6l-1.6 2.4M206.7 75.9l-1.6 2.5M205.5 73.1l-1.6 2.4M203.9 75.5l-1.6 2.5M204.2 70.3l-1.6 2.3M202.6 72.6l-1.6 2.4M201.0 75.0l-1.6 2.5M201.3 69.9l-1.6 2.3M199.8 72.2l-1.6 2.4M198.5 69.4l-1.6 2.3M196.9 71.7l-1.6 2.4M195.6 68.9l-1.6 2.3M194.0 71.2l-1.6 2.4"/>
<path stroke="#d7be28" d="M266.2 108.4l-1.6 3.5M264.9 107.0l-1.6 3.5M263.6 105.5l-1.6 3.5M262.3 103.7l-1.6 3.4M261.1 101.7l-1.6 3.4M259.8 99.4l-1.6 3.3M258.5 97.1l-1.6 3.2M257.2 94.8l-1.6 3.0M255.7 97.8l-1.6 3.3M254.4 95.4l-1.6 3.1M253.1 92.8l-1.6 3.0M251.8 90.3l-1.6 2.9M250.2 93.2l-1.6 3.0M249.0 90.5l-1.6 2.9M247.7 87.9l-1.6 2.8M246.1 90.7l-1.6 3.0M244.8 88.0l-1.6 2.9M243.5 85.3l-1.6 2.8M242.0 88.1l-1.6 2.9M240.7 85.3l-1.6 2.8M239.4 82.7l-1.6 2.7M237.8 85.4l-1.6 2.8M236.6 82.7l-1.6 2.7M235.3 80.1l-1.6 2.5M233.7 82.6l-1.6 2.7M232.4 79.9l-1.6 2.6M230.9 82.5l-1.6 2.7M231.1 77.3l-1.6 2.4M229.6 79.7l-1.6 2.6M228.3 77.1l-1.6 2.4M226.7 79.5l-1.6 2.6M227.0 74.3l-1.6 2.3M225.4 76.6l-1.6 2.4M224.2 73.7l-1.6 2.3M222.6 76.0l-1.6 2.4M221.3 73.1l-1.6 2.3M219.7 75.4l-1.6 2.4M218.5 72.7l-1.6 2.3M216.9 75.0l-1.6 2.4M217.2 69.9l-1.6 2.3M215.6 72.2l-1.6 2.3M214.0 74.5l-1.6 2.4M214.3 69.5l-1.6 2.3M212.7 71.7l-1.6 2.3M211.5 69.0l-1.6 2.2M209.9 71.3l-1.6 2.3M210.2 66.3l-1.6 2.2M208.6 68.6l-1.6 2.2M207.0 70.8l-1.6 2.3M207.3 65.9l-1.6 2.2M205.8 68.1l-1.6 2.2M204.5 65.4l-1.6 2.2M202.9 67.6l-1.6 2.2M203.2 62.7l-1.6 2.3M201.6 65.0l-1.6 2.2M200.1 67.2l-1.6 2.2M200.3 62.3l-1.6 2.2M198.8 64.5l-1.6 2.2M197.2 66.7l-1.6 2.2"/>
<path stroke="#e5bb2d" d="M269.0 106.3l-1.6 3.4M269.3 101.8l-1.6 3.2M267.8 105.0l-1.6 3.4M268.1 100.5l-1.6 3.1M266.5 103.7l-1.6 3.3M266.8 99.0l-1.6 3.2M265.2 102.2l-1.6 3.3M265.5 97.3l-1.6 3.1M263.9 100.4l-1.6 3.3M264.2 95.4l-1.6 3.0M262.6 98.4l-1.6 3.3M262.9 93.4l-1.6 2.9M261.4 96.3l-1.6 3.1M261.7 91.3l-1.6 2.8M260.1 94.1l-1.6 3.0M258.8 91.9l-1.6 2.9M257.5 89.6l-1.6 2.8M255.9 92.4l-1.6 2.9M256.2 87.3l-1.6 2.7M254.7 90.0l-1.6 2.8M253.4 87.5l-1.6 2.8M252.1 85.0l-1.6 2.7M250.5 87.7l-1.6 2.8M250.8 82.6l-1.6 2.6M249.3 85.2l-1.6 2.7M248.0 82.6l-1.6 2.6M246.4 85.2l-1.6 2.7M246.7 80.2l-1.6 2.5M245.1 82.7l-1.6 2.6M243.8 80.2l-1.6 2.5M242.3 82.7l-1.6 2.7M242.6 77.8l-1.6 2.4M241.0 80.2l-1.6 2.5M239.7 77.8l-1.6 2.4M238.1 80.2l-1.6 2.5M238.4 75.4l-1.6 2.3M236.9 77.7l-1.6 2.4M237.1 72.9l-1.6 2.3M235.6 75.2l-1.6 2.3M234.0 77.5l-1.6 2.4M234.3 72.7l-1.6 2.3M232.7 75.0l-1.6 2.3M231.4 72.4l-1.6 2.3M229.9 74.7l-1.6 2.3M230.2 69.7l-1.6 2.3M228.6 72.0l-1.6 2.3M227.3 69.1l-1.6 2.3M225.7 71.4l-1.6 2.3M224.5 68.6l-1.6 2.3M222.9 70.9l-1.6 2.3M223.2 65.8l-1.6 2.3M221.6 68.1l-1.6 2.3M220.0 70.4l-1.6 2.3M220.3 65.4l-1.6 2.3M218.7 67.7l-1.6 2.3M217.5 64.9l-1.6 2.3M215.9 67.2l-1.6 2.3M216.2 62.1l-1.6 2.3M214.6 64.5l-1.6 2.3M213.0 66.8l-1.6 2.2M213.3 61.7l-1.6 2.3M211.8 64.0l-1.6 2.3M210.5 61.3l-1.6 2.3M208.9 63.6l-1.6 2.3M207.6 60.8l-1.6 2.3M206.1 63.2l-1.6 2.3M206.3 58.1l-1.6 2.3M204.8 60.4l-1.6 2.3M203.5 57.6l-1.6 2.3M201.9 60.0l-1.6 2.3"/>
<path stroke="#f1ba37" d="M271.9 104.3l-1.6 3.2M272.2 100.0l-1.6 3.0M270.6 103.1l-1.6 3.2M270.9 98.8l-1.6 3.0M269.6 97.5l-1.6 3.0M268.3 96.0l-1.6 3.0M267.1 94.3l-1.6 2.9M267.4 89.9l-1.6 2.6M265.8 92.6l-1.6 2.8M264.5 90.7l-1.6 2.7M263.2 88.6l-1.6 2.7M261.9 86.6l-1.6 2.6M260.4 89.2l-1.6 2.7M260.7 84.4l-1.6 2.6M259.1 87.0l-1.6 2.7M259.4 82.2l-1.6 2.5M257.8 84.7l-1.6 2.6M256.5 82.4l-1.6 2.5M255.0 84.9l-1.6 2.6M255.3 80.1l-1.6 2.4M253.7 82.5l-1.6 2.5M254.0 77.9l-1.6 2.3M252.4 80.2l-1.6 2.4M251.1 77.9l-1.6 2.3M249.5 80.2l-1.6 2.4M249.8 75.7l-1.6 2.2M248.3 77.9l-1.6 2.3M248.6 73.4l-1.6 2.2M247.0 75.6l-1.6 2.3M245.4 77.9l-1.6 2.3M245.7 73.3l-1.6 2.2M244.1 75.5l-1.6 2.3M244.4 70.9l-1.6 2.3M242.9 73.2l-1.6 2.3M241.3 75.5l-1.6 2.3M241.6 70.8l-1.6 2.3M240.0 73.1l-1.6 2.3M240.3 68.2l-1.6 2.4M238.7 70.6l-1.6 2.3M237.4 68.0l-1.6 2.4M235.9 70.4l-1.6 2.3M236.2 65.3l-1.6 2.4M234.6 67.7l-1.6 2.4M233.0 70.1l-1.6 2.3M233.3 64.9l-1.6 2.4M231.7 67.3l-1.6 2.4M230.5 64.4l-1.6 2.4M228.9 66.8l-1.6 2.3M227.6 63.9l-1.6 2.4M226.0 66.3l-1.6 2.3M226.3 61.1l-1.6 2.4M224.7 63.4l-1.6 2.4M223.5 60.6l-1.6 2.4M221.9 63.0l-1.6 2.4M220.6 60.2l-1.6 2.4M219.0 62.6l-1.6 2.4M219.3 57.5l-1.6 2.3M217.8 59.8l-1.6 2.4M216.5 57.1l-1.6 2.3M214.9 59.4l-1.6 2.3M213.6 56.6l-1.6 2.3M212.1 58.9l-1.6 2.3M212.3 54.0l-1.6 2.2M210.8 56.2l-1.6 2.3M209.2 58.5l-1.6 2.3M209.5 53.5l-1.6 2.2M207.9 55.8l-1.6 2.3M206.6 53.1l-1.6 2.2M205.1 55.3l-1.6 2.3"/>
<path stroke="#fbbc3d" d="M276.3 99.5l-1.6 2.9M274.7 102.4l-1.6 3.0M275.0 98.3l-1.6 2.9M273.5 101.2l-1.6 3.1M273.8 97.2l-1.6 2.8M274.1 93.2l-1.6 2.8M272.5 95.9l-1.6 2.9M272.8 91.9l-1.6 2.7M271.2 94.6l-1.6 2.9M271.5 90.6l-1.6 2.6M269.9 93.2l-1.6 2.8M270.2 89.1l-1.6 2.6M268.6 91.6l-1.6 2.7M268.9 87.4l-1.6 2.5M267.7 85.6l-1.6 2.5M266.1 88.1l-1.6 2.6M266.4 83.6l-1.6 2.4M264.8 86.1l-1.6 2.6M265.1 81.7l-1.6 2.4M263.5 84.1l-1.6 2.5M263.8 79.7l-1.6 2.3M262.2 82.0l-1.6 2.4M262.5 77.7l-1.6 2.2M261.0 79.9l-1.6 2.3M261.3 75.7l-1.6 2.1M259.7 77.8l-1.6 2.2M258.1 80.1l-1.6 2.3M260.0 73.6l-1.6 2.1M258.4 75.7l-1.6 2.2M256.8 77.9l-1.6 2.2M257.1 73.6l-1.6 2.2M255.6 75.7l-1.6 2.2M255.8 71.3l-1.6 2.2M254.3 73.5l-1.6 2.2M252.7 75.7l-1.6 2.2M253.0 71.2l-1.6 2.2M251.4 73.5l-1.6 2.2M251.7 68.8l-1.6 2.3M250.1 71.1l-1.6 2.2M250.4 66.3l-1.6 2.4M248.9 68.7l-1.6 2.3M247.3 71.0l-1.6 2.3M247.6 66.2l-1.6 2.4M246.0 68.6l-1.6 2.3M244.7 66.0l-1.6 2.4M243.2 68.4l-1.6 2.4M243.4 63.4l-1.6 2.4M241.9 65.8l-1.6 2.4M240.6 63.2l-1.6 2.4M239.0 65.6l-1.6 2.4M239.3 60.6l-1.6 2.4M237.7 62.9l-1.6 2.4M236.5 60.2l-1.6 2.4M234.9 62.5l-1.6 2.4M233.6 59.7l-1.6 2.3M232.0 62.0l-1.6 2.4M232.3 56.9l-1.6 2.2M230.8 59.2l-1.6 2.3M229.2 61.5l-1.6 2.4M229.5 56.5l-1.6 2.2M227.9 58.7l-1.6 2.3M226.6 56.1l-1.6 2.2M225.0 58.3l-1.6 2.3M225.3 53.5l-1.6 2.2M223.8 55.7l-1.6 2.2M222.2 57.9l-1.6 2.3M222.5 53.1l-1.6 2.2M220.9 55.2l-1.6 2.2M221.2 50.5l-1.6 2.2M219.6 52.6l-1.6 2.2M218.1 54.8l-1.6 2.2M218.4 50.0l-1.6 2.2M216.8 52.2l-1.6 2.2M215.2 54.4l-1.6 2.2M215.5 49.6l-1.6 2.2M213.9 51.8l-1.6 2.2M214.2 47.0l-1.6 2.1M212.6 49.2l-1.6 2.2M211.1 51.3l-1.6 2.2M211.4 46.6l-1.6 2.1M209.8 48.7l-1.6 2.2M208.2 50.9l-1.6 2.2"/>
<path stroke="#fec239" d="M280.5 99.2l-1.6 2.7M279.2 97.9l-1.6 2.7M277.6 100.7l-1.6 2.9M277.9 96.8l-1.6 2.7M278.2 93.0l-1.6 2.6M276.6 95.6l-1.6 2.7M276.9 91.8l-1.6 2.6M275.3 94.5l-1.6 2.7M277.2 88.3l-1.6 2.4M275.6 90.6l-1.6 2.6M275.9 87.1l-1.6 2.4M274.4 89.4l-1.6 2.5M274.6 85.8l-1.6 2.4M273.1 88.1l-1.6 2.5M274.9 82.1l-1.6 2.2M273.4 84.3l-1.6 2.3M271.8 86.6l-1.6 2.4M273.7 80.5l-1.6 2.2M272.1 82.7l-1.6 2.3M270.5 85.0l-1.6 2.4M272.4 78.8l-1.6 2.1M270.8 80.9l-1.6 2.3M269.2 83.2l-1.6 2.4M271.1 77.1l-1.6 2.1M269.5 79.2l-1.6 2.2M268.0 81.3l-1.6 2.3M269.8 75.3l-1.6 2.0M268.2 77.4l-1.6 2.1M266.7 79.5l-1.6 2.2M268.5 73.5l-1.6 2.1M267.0 75.5l-1.6 2.1M265.4 77.6l-1.6 2.1M267.3 71.4l-1.6 2.1M265.7 73.5l-1.6 2.1M264.1 75.6l-1.6 2.1M264.4 71.4l-1.6 2.1M262.8 73.6l-1.6 2.1M263.1 69.2l-1.6 2.2M261.6 71.4l-1.6 2.2M261.8 66.8l-1.6 2.3M260.3 69.1l-1.6 2.3M258.7 71.4l-1.6 2.2M259.0 66.7l-1.6 2.3M257.4 69.0l-1.6 2.3M257.7 64.3l-1.6 2.3M256.1 66.6l-1.6 2.3M254.6 68.9l-1.6 2.3M254.9 64.1l-1.6 2.3M253.3 66.5l-1.6 2.4M253.6 61.7l-1.6 2.3M252.0 64.0l-1.6 2.4M250.7 61.5l-1.6 2.3M249.2 63.8l-1.6 2.4M249.4 59.1l-1.6 2.2M247.9 61.3l-1.6 2.3M246.3 63.6l-1.6 2.4M246.6 58.9l-1.6 2.2M245.0 61.1l-1.6 2.3M245.3 56.5l-1.6 2.2M243.7 58.6l-1.6 2.2M242.2 60.8l-1.6 2.3M242.5 56.1l-1.6 2.2M240.9 58.3l-1.6 2.2M241.2 53.6l-1.6 2.1M239.6 55.7l-1.6 2.2M238.0 57.9l-1.6 2.2M238.3 53.1l-1.6 2.1M236.8 55.3l-1.6 2.2M235.2 57.4l-1.6 2.2M235.5 52.6l-1.6 2.1M233.9 54.8l-1.6 2.2M234.2 50.1l-1.6 2.1M232.6 52.2l-1.6 2.1M231.0 54.3l-1.6 2.2M231.3 49.7l-1.6 2.1M229.8 51.8l-1.6 2.1M228.2 53.9l-1.6 2.2M228.5 49.3l-1.6 2.1M226.9 51.3l-1.6 2.1M227.2 46.8l-1.6 2.0M225.6 48.8l-1.6 2.1M224.1 50.9l-1.6 2.1M224.4 46.3l-1.6 2.0M222.8 48.4l-1.6 2.1M223.1 43.9l-1.6 2.0M221.5 45.9l-1.6 2.0M219.9 47.9l-1.6 2.1M220.2 43.5l-1.6 2.0M218.6 45.4l-1.6 2.0M217.1 47.5l-1.6 2.1M217.4 43.0l-1.6 2.0M215.8 45.0l-1.6 2.1M216.1 40.6l-1.6 2.0M214.5 42.5l-1.6 2.0M212.9 44.5l-1.6 2.1"/>
<path stroke="#feca33" d="M283.3 97.9l-1.6 2.6M283.6 94.1l-1.6 2.5M282.0 96.6l-1.6 2.6M282.3 92.9l-1.6 2.4M280.7 95.3l-1.6 2.6M282.6 89.4l-1.6 2.3M281.0 91.8l-1.6 2.5M279.5 94.2l-1.6 2.6M281.3 88.2l-1.6 2.3M279.8 90.6l-1.6 2.5M280.1 87.1l-1.6 2.3M278.5 89.4l-1.6 2.4M280.4 83.9l-1.6 2.1M278.8 86.0l-1.6 2.2M280.6 80.6l-1.6 2.1M279.1 82.7l-1.6 2.1M277.5 84.8l-1.6 2.2M279.4 79.3l-1.6 2.0M277.8 81.4l-1.6 2.1M276.2 83.5l-1.6 2.2M278.1 78.0l-1.6 2.0M276.5 79.9l-1.6 2.1M278.4 74.6l-1.6 1.9M276.8 76.5l-1.6 2.0M275.2 78.4l-1.6 2.1M277.1 72.9l-1.6 1.9M275.5 74.9l-1.6 1.9M274.0 76.8l-1.6 2.0M275.8 71.1l-1.6 2.0M274.2 73.1l-1.6 2.0M272.7 75.1l-1.6 2.0M274.5 69.2l-1.6 2.1M273.0 71.3l-1.6 2.0M271.4 73.3l-1.6 2.0M271.7 69.2l-1.6 2.1M270.1 71.4l-1.6 2.1M270.4 67.0l-1.6 2.2M268.8 69.3l-1.6 2.2M269.1 64.8l-1.6 2.2M267.6 67.0l-1.6 2.2M266.0 69.2l-1.6 2.2M266.3 64.7l-1.6 2.2M264.7 66.9l-1.6 2.3M265.0 62.4l-1.6 2.2M263.4 64.6l-1.6 2.3M263.7 60.2l-1.6 2.1M262.1 62.2l-1.6 2.2M260.6 64.4l-1.6 2.3M260.9 60.0l-1.6 2.1M259.3 62.1l-1.6 2.2M259.6 57.7l-1.6 2.0M258.0 59.8l-1.6 2.1M256.4 61.9l-1.6 2.3M256.7 57.5l-1.6 2.1M255.2 59.6l-1.6 2.1M255.4 55.2l-1.6 2.0M253.9 57.3l-1.6 2.1M252.3 59.4l-1.6 2.2M252.6 55.0l-1.6 2.1M251.0 57.0l-1.6 2.1M251.3 52.6l-1.6 2.0M249.7 54.7l-1.6 2.1M248.2 56.7l-1.6 2.1M250.0 50.3l-1.6 2.0M248.5 52.3l-1.6 2.0M246.9 54.4l-1.6 2.1M247.2 50.0l-1.6 2.0M245.6 52.0l-1.6 2.1M244.0 54.0l-1.6 2.1M244.3 49.5l-1.6 2.0M242.8 51.5l-1.6 2.1M243.0 47.1l-1.6 1.9M241.5 49.1l-1.6 2.0M239.9 51.1l-1.6 2.1M240.2 46.6l-1.6 1.9M238.6 48.6l-1.6 2.0M237.0 50.6l-1.6 2.1M238.9 44.3l-1.6 1.9M237.3 46.2l-1.6 1.9M235.8 48.1l-1.6 2.0M236.1 43.8l-1.6 1.9M234.5 45.7l-1.6 1.9M232.9 47.7l-1.6 2.0M234.8 41.5l-1.6 1.9M233.2 43.4l-1.6 1.9M231.6 45.3l-1.6 2.0M230.1 47.2l-1.6 2.0M231.9 41.0l-1.6 1.9M230.4 42.9l-1.6 1.9M228.8 44.8l-1.6 2.0M229.1 40.6l-1.6 1.9M227.5 42.4l-1.6 1.9M225.9 44.4l-1.6 2.0M227.8 38.3l-1.6 1.8M226.2 40.1l-1.6 1.9M224.6 42.0l-1.6 1.9M224.9 37.8l-1.6 1.8M223.4 39.6l-1.6 1.9M221.8 41.5l-1.6 2.0M223.7 35.5l-1.6 1.8M222.1 37.3l-1.6 1.8M220.5 39.1l-1.6 1.9M218.9 41.0l-1.6 2.0M220.8 35.0l-1.6 1.8M219.2 36.8l-1.6 1.9M217.7 38.6l-1.6 1.9"/>
<path stroke="#fbd22f" d="M287.7 93.7l-1.6 2.3M286.2 96.0l-1.6 2.4M288.0 90.9l-1.6 2.2M286.5 93.1l-1.6 2.3M284.9 95.4l-1.6 2.5M286.8 89.6l-1.6 2.2M285.2 91.8l-1.6 2.3M285.5 88.4l-1.6 2.2M283.9 90.6l-1.6 2.3M285.8 85.2l-1.6 2.0M284.2 87.2l-1.6 2.2M286.1 82.1l-1.6 1.9M284.5 84.1l-1.6 2.0M282.9 86.1l-1.6 2.1M284.8 81.0l-1.6 2.0M283.2 83.0l-1.6 2.0M281.6 85.0l-1.6 2.1M285.1 78.0l-1.6 1.9M283.5 79.9l-1.6 2.0M281.9 81.8l-1.6 2.0M285.4 75.1l-1.6 1.8M283.8 76.8l-1.6 1.8M282.2 78.7l-1.6 2.0M284.1 73.8l-1.6 1.8M282.5 75.6l-1.6 1.8M280.9 77.4l-1.6 1.9M284.4 70.5l-1.6 1.9M282.8 72.4l-1.6 1.8M281.2 74.2l-1.6 1.8M279.7 76.1l-1.6 1.9M283.1 68.8l-1.6 2.0M281.5 70.8l-1.6 1.9M280.0 72.7l-1.6 1.9M281.8 66.9l-1.6 2.1M280.2 69.0l-1.6 2.0M278.7 71.0l-1.6 2.0M280.5 64.9l-1.6 2.1M279.0 67.0l-1.6 2.1M277.4 69.1l-1.6 2.1M277.7 64.9l-1.6 2.1M276.1 67.0l-1.6 2.1M276.4 62.9l-1.6 2.1M274.8 64.9l-1.6 2.2M273.3 67.1l-1.6 2.2M275.1 60.8l-1.6 1.9M273.6 62.8l-1.6 2.1M272.0 64.9l-1.6 2.2M273.9 58.8l-1.6 1.9M272.3 60.7l-1.6 2.0M270.7 62.7l-1.6 2.1M271.0 58.6l-1.6 1.9M269.4 60.5l-1.6 2.0M267.8 62.5l-1.6 2.2M269.7 56.5l-1.6 1.9M268.1 58.4l-1.6 2.0M266.6 60.3l-1.6 2.0M268.4 54.3l-1.6 1.9M266.9 56.2l-1.6 1.9M265.3 58.2l-1.6 2.0M265.6 54.1l-1.6 1.9M264.0 56.0l-1.6 2.0M262.4 57.9l-1.6 2.0M264.3 51.9l-1.6 1.8M262.7 53.8l-1.6 1.9M261.2 55.7l-1.6 2.0M261.5 51.6l-1.6 1.9M259.9 53.5l-1.6 2.0M258.3 55.5l-1.6 2.0M260.2 49.5l-1.6 1.8M258.6 51.3l-1.6 1.9M257.0 53.2l-1.6 2.0M258.9 47.4l-1.6 1.8M257.3 49.2l-1.6 1.8M255.7 51.0l-1.6 1.9M254.2 52.9l-1.6 2.0M256.0 47.0l-1.6 1.8M254.5 48.8l-1.6 1.9M252.9 50.7l-1.6 1.9M254.8 44.8l-1.6 1.8M253.2 46.6l-1.6 1.8M251.6 48.4l-1.6 1.9M251.9 44.4l-1.6 1.8M250.3 46.2l-1.6 1.8M248.8 48.1l-1.6 1.9M250.6 42.2l-1.6 1.7M249.1 44.0l-1.6 1.8M247.5 45.8l-1.6 1.9M245.9 47.6l-1.6 1.9M247.8 41.7l-1.6 1.7M246.2 43.5l-1.6 1.8M244.6 45.3l-1.6 1.9M246.5 39.5l-1.6 1.7M244.9 41.2l-1.6 1.8M243.3 43.0l-1.6 1.8M241.8 44.8l-1.6 1.9M243.6 39.0l-1.6 1.7M242.1 40.7l-1.6 1.8M240.5 42.5l-1.6 1.8M242.4 36.7l-1.6 1.7M240.8 38.5l-1.6 1.7M239.2 40.2l-1.6 1.8M237.6 42.0l-1.6 1.8M239.5 36.2l-1.6 1.8M237.9 38.0l-1.6 1.7M236.4 39.7l-1.6 1.8M238.2 34.0l-1.6 1.7M236.7 35.7l-1.6 1.8M235.1 37.5l-1.6 1.8M233.5 39.2l-1.6 1.8M235.4 33.5l-1.6 1.7M233.8 35.2l-1.6 1.8M232.2 37.0l-1.6 1.8M230.6 38.8l-1.6 1.8M234.1 31.4l-1.6 1.6M232.5 33.0l-1.6 1.7M230.9 34.7l-1.6 1.8M229.4 36.5l-1.6 1.8M231.2 30.9l-1.6 1.6M229.7 32.4l-1.6 1.7M228.1 34.2l-1.6 1.8M226.5 36.0l-1.6 1.8M230.0 29.0l-1.6 1.4M228.4 30.3l-1.6 1.6M226.8 31.9l-1.6 1.7M225.2 33.7l-1.6 1.8M228.7 27.2l-1.6 1.3M227.1 28.4l-1.6 1.4M225.5 29.8l-1.6 1.6M224.0 31.4l-1.6 1.8M222.4 33.2l-1.6 1.8"/>
<path stroke="#f7db2b" d="M290.9 89.5l-1.6 2.0M289.3 91.6l-1.6 2.2M291.2 86.7l-1.6 2.0M289.6 88.8l-1.6 2.1M291.5 83.7l-1.6 1.8M289.9 85.5l-1.6 2.0M288.3 87.5l-1.6 2.1M291.8 80.8l-1.6 1.8M290.2 82.5l-1.6 1.8M288.6 84.4l-1.6 1.9M287.0 86.3l-1.6 2.1M290.5 79.6l-1.6 1.8M288.9 81.4l-1.6 1.8M287.3 83.3l-1.6 1.9M290.8 76.8l-1.6 1.7M289.2 78.5l-1.6 1.8M287.6 80.3l-1.6 1.9M291.1 74.0l-1.6 1.6M289.5 75.7l-1.6 1.7M287.9 77.4l-1.6 1.8M286.4 79.2l-1.6 1.9M291.4 71.2l-1.6 1.6M289.8 72.9l-1.6 1.7M288.2 74.5l-1.6 1.7M286.6 76.2l-1.6 1.8M291.7 68.1l-1.6 1.8M290.1 69.9l-1.6 1.7M288.5 71.6l-1.6 1.7M286.9 73.3l-1.6 1.7M290.4 66.5l-1.6 1.9M288.8 68.4l-1.6 1.9M287.2 70.2l-1.6 1.8M285.7 72.0l-1.6 1.8M289.1 64.8l-1.6 1.9M287.5 66.7l-1.6 1.9M286.0 68.6l-1.6 1.9M287.8 63.0l-1.6 1.9M286.3 64.8l-1.6 2.0M284.7 66.8l-1.6 2.0M286.5 61.2l-1.6 1.8M285.0 63.0l-1.6 1.9M283.4 64.9l-1.6 2.0M285.3 59.4l-1.6 1.8M283.7 61.1l-1.6 1.8M282.1 62.9l-1.6 2.0M284.0 57.5l-1.6 1.7M282.4 59.2l-1.6 1.8M280.8 61.0l-1.6 1.9M279.3 62.9l-1.6 2.0M282.7 55.6l-1.6 1.7M281.1 57.3l-1.6 1.8M279.6 59.1l-1.6 1.8M278.0 60.9l-1.6 1.9M279.9 55.4l-1.6 1.8M278.3 57.1l-1.6 1.8M276.7 58.9l-1.6 1.9M278.6 53.4l-1.6 1.7M277.0 55.1l-1.6 1.8M275.4 56.9l-1.6 1.9M277.3 51.5l-1.6 1.7M275.7 53.1l-1.6 1.7M274.1 54.9l-1.6 1.8M272.6 56.7l-1.6 1.9M276.0 49.5l-1.6 1.6M274.4 51.2l-1.6 1.7M272.9 52.8l-1.6 1.8M271.3 54.6l-1.6 1.8M273.2 49.2l-1.6 1.6M271.6 50.8l-1.6 1.7M270.0 52.5l-1.6 1.8M271.9 47.2l-1.6 1.6M270.3 48.8l-1.6 1.7M268.7 50.5l-1.6 1.7M267.2 52.2l-1.6 1.8M270.6 45.2l-1.6 1.6M269.0 46.8l-1.6 1.6M267.5 48.5l-1.6 1.7M265.9 50.2l-1.6 1.8M269.3 43.3l-1.6 1.6M267.7 44.8l-1.6 1.6M266.2 46.5l-1.6 1.7M264.6 48.1l-1.6 1.7M263.0 49.8l-1.6 1.8M266.5 42.8l-1.6 1.6M264.9 44.4l-1.6 1.6M263.3 46.1l-1.6 1.7M261.7 47.8l-1.6 1.8M265.2 40.8l-1.6 1.6M263.6 42.4l-1.6 1.6M262.0 44.0l-1.6 1.7M260.5 45.7l-1.6 1.7M262.3 40.3l-1.6 1.7M260.8 41.9l-1.6 1.6M259.2 43.6l-1.6 1.7M257.6 45.3l-1.6 1.7M261.1 38.2l-1.6 1.6M259.5 39.8l-1.6 1.7M257.9 41.5l-1.6 1.7M256.3 43.1l-1.6 1.7M259.8 36.2l-1.6 1.5M258.2 37.7l-1.6 1.6M256.6 39.3l-1.6 1.7M255.1 41.0l-1.6 1.7M253.5 42.7l-1.6 1.7M256.9 35.6l-1.6 1.5M255.3 37.2l-1.6 1.7M253.8 38.8l-1.6 1.7M252.2 40.5l-1.6 1.7M255.6 33.8l-1.6 1.3M254.1 35.1l-1.6 1.5M252.5 36.6l-1.6 1.7M250.9 38.3l-1.6 1.7M249.3 40.0l-1.6 1.7M254.4 32.0l-1.6 1.3M252.8 33.2l-1.6 1.3M251.2 34.6l-1.6 1.5M249.6 36.1l-1.6 1.7M248.1 37.8l-1.6 1.7M253.1 30.2l-1.6 1.2M251.5 31.4l-1.6 1.3M249.9 32.7l-1.6 1.3M248.4 34.0l-1.6 1.5M246.8 35.6l-1.6 1.7M245.2 37.3l-1.6 1.7M253.4 27.5l-1.6 1.0M251.8 28.5l-1.6 1.1M250.2 29.7l-1.6 1.2M248.7 30.9l-1.6 1.3M247.1 32.2l-1.6 1.3M245.5 33.5l-1.6 1.6M243.9 35.1l-1.6 1.7M250.5 27.0l-1.6 1.0M248.9 28.0l-1.6 1.1M247.4 29.1l-1.6 1.2M245.8 30.4l-1.6 1.3M244.2 31.6l-1.6 1.3M242.7 33.0l-1.6 1.6M241.1 34.5l-1.6 1.7M247.7 26.5l-1.6 1.0M246.1 27.5l-1.6 1.1M244.5 28.6l-1.6 1.2M242.9 29.8l-1.6 1.3M241.4 31.1l-1.6 1.4M239.8 32.4l-1.6 1.6M244.8 26.0l-1.6 1.0M243.2 27.0l-1.6 1.1M241.7 28.1l-1.6 1.2M240.1 29.3l-1.6 1.3M238.5 30.6l-1.6 1.4M236.9 31.9l-1.6 1.6M242.0 25.4l-1.6 1.0M240.4 26.4l-1.6 1.1M238.8 27.6l-1.6 1.2M237.2 28.8l-1.6 1.3M235.7 30.0l-1.6 1.4M239.1 24.9l-1.6 1.0M237.5 25.9l-1.6 1.1M236.0 27.0l-1.6 1.2M234.4 28.2l-1.6 1.3M232.8 29.5l-1.6 1.4M236.3 24.4l-1.6 1.0M234.7 25.4l-1.6 1.1M233.1 26.5l-1.6 1.2M231.5 27.7l-1.6 1.3M233.4 23.9l-1.6 1.0M231.8 24.8l-1.6 1.1M230.3 26.0l-1.6 1.2"/>
<path stroke="#f5e327" d="M297.2 82.3l-1.6 1.6M295.6 83.9l-1.6 1.8M294.0 85.7l-1.6 1.9M292.5 87.6l-1.6 2.0M297.5 79.8l-1.6 1.6M295.9 81.4l-1.6 1.7M294.3 83.1l-1.6 1.8M292.8 84.9l-1.6 1.9M297.8 77.1l-1.6 1.6M296.2 78.6l-1.6 1.6M294.6 80.2l-1.6 1.7M293.0 81.9l-1.6 1.8M298.1 74.4l-1.6 1.5M296.5 75.9l-1.6 1.6M294.9 77.4l-1.6 1.6M293.3 79.1l-1.6 1.7M298.4 71.8l-1.6 1.5M296.8 73.2l-1.6 1.5M295.2 74.7l-1.6 1.6M293.6 76.3l-1.6 1.6M292.1 77.9l-1.6 1.7M298.7 69.0l-1.6 1.5M297.1 70.6l-1.6 1.5M295.5 72.1l-1.6 1.5M293.9 73.6l-1.6 1.6M292.4 75.2l-1.6 1.6M298.9 65.9l-1.6 1.7M297.4 67.6l-1.6 1.7M295.8 69.3l-1.6 1.6M294.2 70.9l-1.6 1.6M292.7 72.5l-1.6 1.6M297.7 64.4l-1.6 1.7M296.1 66.1l-1.6 1.7M294.5 67.8l-1.6 1.7M292.9 69.6l-1.6 1.7M296.4 62.8l-1.6 1.7M294.8 64.5l-1.6 1.8M293.2 66.3l-1.6 1.8M296.7 59.7l-1.6 1.6M295.1 61.3l-1.6 1.6M293.5 62.9l-1.6 1.8M292.0 64.7l-1.6 1.8M295.4 58.1l-1.6 1.6M293.8 59.6l-1.6 1.6M292.3 61.3l-1.6 1.7M290.7 62.9l-1.6 1.8M294.1 56.4l-1.6 1.6M292.5 57.9l-1.6 1.6M291.0 59.6l-1.6 1.7M289.4 61.2l-1.6 1.7M292.8 54.7l-1.6 1.5M291.3 56.2l-1.6 1.6M289.7 57.8l-1.6 1.7M288.1 59.5l-1.6 1.7M291.6 52.9l-1.6 1.5M290.0 54.4l-1.6 1.6M288.4 56.0l-1.6 1.6M286.8 57.6l-1.6 1.7M290.3 51.2l-1.6 1.5M288.7 52.7l-1.6 1.5M287.1 54.2l-1.6 1.6M285.6 55.8l-1.6 1.7M289.0 49.4l-1.6 1.4M287.4 50.9l-1.6 1.5M285.9 52.4l-1.6 1.6M284.3 53.9l-1.6 1.6M287.7 47.7l-1.6 1.4M286.1 49.1l-1.6 1.5M284.6 50.6l-1.6 1.5M283.0 52.1l-1.6 1.6M281.4 53.7l-1.6 1.7M286.4 45.9l-1.6 1.4M284.9 47.3l-1.6 1.5M283.3 48.7l-1.6 1.5M281.7 50.2l-1.6 1.6M280.1 51.8l-1.6 1.6M285.2 44.0l-1.6 1.5M283.6 45.4l-1.6 1.4M282.0 46.9l-1.6 1.5M280.4 48.4l-1.6 1.5M278.9 49.9l-1.6 1.6M283.9 42.1l-1.6 1.5M282.3 43.5l-1.6 1.5M280.7 45.0l-1.6 1.5M279.2 46.5l-1.6 1.5M277.6 48.0l-1.6 1.6M282.6 40.2l-1.6 1.4M281.0 41.6l-1.6 1.5M279.5 43.1l-1.6 1.5M277.9 44.6l-1.6 1.5M276.3 46.1l-1.6 1.5M274.7 47.6l-1.6 1.6M281.3 38.4l-1.6 1.3M279.8 39.7l-1.6 1.4M278.2 41.1l-1.6 1.5M276.6 42.6l-1.6 1.5M275.0 44.1l-1.6 1.5M273.5 45.7l-1.6 1.6M280.0 36.7l-1.6 1.2M278.5 37.9l-1.6 1.3M276.9 39.2l-1.6 1.4M275.3 40.6l-1.6 1.5M273.7 42.1l-1.6 1.6M272.2 43.7l-1.6 1.5M278.8 35.0l-1.6 1.2M277.2 36.2l-1.6 1.2M275.6 37.4l-1.6 1.3M274.0 38.7l-1.6 1.4M272.5 40.1l-1.6 1.5M270.9 41.7l-1.6 1.6M279.1 32.3l-1.6 1.0M277.5 33.3l-1.6 1.1M275.9 34.5l-1.6 1.2M274.3 35.7l-1.6 1.2M272.8 36.9l-1.6 1.3M271.2 38.2l-1.6 1.5M269.6 39.7l-1.6 1.6M268.0 41.2l-1.6 1.6M276.2 31.8l-1.6 1.0M274.6 32.8l-1.6 1.1M273.1 33.9l-1.6 1.2M271.5 35.1l-1.6 1.2M269.9 36.4l-1.6 1.3M268.3 37.7l-1.6 1.5M266.8 39.2l-1.6 1.6M273.4 31.2l-1.6 1.0M271.8 32.3l-1.6 1.1M270.2 33.4l-1.6 1.2M268.6 34.6l-1.6 1.3M267.1 35.9l-1.6 1.3M265.5 37.2l-1.6 1.5M263.9 38.7l-1.6 1.6M270.5 30.7l-1.6 1.0M268.9 31.7l-1.6 1.1M267.4 32.9l-1.6 1.2M265.8 34.1l-1.6 1.3M264.2 35.3l-1.6 1.3M262.6 36.7l-1.6 1.5M267.6 30.2l-1.6 1.0M266.1 31.2l-1.6 1.1M264.5 32.3l-1.6 1.2M262.9 33.6l-1.6 1.3M261.3 34.8l-1.6 1.3M264.8 29.6l-1.6 1.0M263.2 30.7l-1.6 1.1M261.6 31.8l-1.6 1.2M260.1 33.0l-1.6 1.3M258.5 34.3l-1.6 1.3M261.9 29.1l-1.6 1.0M260.4 30.1l-1.6 1.1M258.8 31.3l-1.6 1.2M257.2 32.5l-1.6 1.3M259.1 28.6l-1.6 1.0M257.5 29.6l-1.6 1.1M255.9 30.7l-1.6 1.2M256.2 28.1l-1.6 1.0M254.7 29.1l-1.6 1.1"/>
<path stroke="#f5eb23" d="M306.6 73.6l-1.6 1.3M305.1 74.9l-1.6 1.4M303.5 76.3l-1.6 1.4M301.9 77.7l-1.6 1.5M300.3 79.2l-1.6 1.5M298.8 80.7l-1.6 1.6M308.5 69.9l-1.6 1.3M306.9 71.3l-1.6 1.3M305.3 72.6l-1.6 1.3M303.8 73.9l-1.6 1.4M302.2 75.3l-1.6 1.4M300.6 76.8l-1.6 1.5M299.0 78.3l-1.6 1.6M308.8 67.2l-1.6 1.4M307.2 68.6l-1.6 1.4M305.6 70.0l-1.6 1.4M304.1 71.4l-1.6 1.4M302.5 72.7l-1.6 1.4M300.9 74.1l-1.6 1.4M299.3 75.6l-1.6 1.5M307.5 65.7l-1.6 1.5M305.9 67.2l-1.6 1.5M304.4 68.7l-1.6 1.4M302.8 70.1l-1.6 1.4M301.2 71.5l-1.6 1.4M299.6 72.9l-1.6 1.4M307.8 62.8l-1.6 1.5M306.2 64.2l-1.6 1.5M304.7 65.8l-1.6 1.5M303.1 67.3l-1.6 1.5M301.5 68.8l-1.6 1.5M299.9 70.3l-1.6 1.5M306.5 61.3l-1.6 1.4M304.9 62.7l-1.6 1.5M303.4 64.3l-1.6 1.6M301.8 65.8l-1.6 1.6M300.2 67.4l-1.6 1.6M306.8 58.5l-1.6 1.4M305.2 59.9l-1.6 1.4M303.7 61.3l-1.6 1.5M302.1 62.7l-1.6 1.6M300.5 64.3l-1.6 1.6M307.1 55.7l-1.6 1.3M305.5 57.0l-1.6 1.4M304.0 58.4l-1.6 1.4M302.4 59.8l-1.6 1.5M300.8 61.2l-1.6 1.5M299.2 62.8l-1.6 1.6M305.8 54.2l-1.6 1.3M304.3 55.5l-1.6 1.4M302.7 56.8l-1.6 1.4M301.1 58.3l-1.6 1.5M299.5 59.7l-1.6 1.5M298.0 61.3l-1.6 1.6M306.1 51.4l-1.6 1.2M304.6 52.7l-1.6 1.3M303.0 54.0l-1.6 1.3M301.4 55.3l-1.6 1.4M299.8 56.7l-1.6 1.5M298.3 58.2l-1.6 1.5M306.4 48.7l-1.6 1.2M304.8 49.9l-1.6 1.2M303.3 51.1l-1.6 1.3M301.7 52.4l-1.6 1.3M300.1 53.7l-1.6 1.4M298.5 55.1l-1.6 1.5M297.0 56.5l-1.6 1.5M305.1 47.0l-1.6 1.3M303.6 48.3l-1.6 1.2M302.0 49.5l-1.6 1.3M300.4 50.8l-1.6 1.3M298.8 52.1l-1.6 1.4M297.3 53.5l-1.6 1.4M295.7 54.9l-1.6 1.5M305.4 44.1l-1.6 1.2M303.9 45.3l-1.6 1.3M302.3 46.6l-1.6 1.3M300.7 47.9l-1.6 1.3M299.1 49.2l-1.6 1.3M297.6 50.5l-1.6 1.3M296.0 51.8l-1.6 1.4M294.4 53.2l-1.6 1.5M304.2 42.5l-1.6 1.2M302.6 43.6l-1.6 1.2M301.0 44.9l-1.6 1.3M299.4 46.2l-1.6 1.3M297.9 47.5l-1.6 1.3M296.3 48.8l-1.6 1.3M294.7 50.1l-1.6 1.4M293.1 51.5l-1.6 1.4M304.4 39.7l-1.6 1.1M302.9 40.8l-1.6 1.2M301.3 42.0l-1.6 1.2M299.7 43.2l-1.6 1.3M298.2 44.4l-1.6 1.3M296.6 45.7l-1.6 1.3M295.0 47.1l-1.6 1.3M293.4 48.4l-1.6 1.4M291.9 49.8l-1.6 1.4M304.7 37.0l-1.6 1.0M303.2 38.1l-1.6 1.1M301.6 39.2l-1.6 1.1M300.0 40.3l-1.6 1.2M298.4 41.5l-1.6 1.2M296.9 42.7l-1.6 1.3M295.3 44.0l-1.6 1.4M293.7 45.3l-1.6 1.4M292.2 46.7l-1.6 1.4M290.6 48.1l-1.6 1.4M301.9 36.5l-1.6 1.0M300.3 37.5l-1.6 1.1M298.7 38.6l-1.6 1.1M297.2 39.8l-1.6 1.2M295.6 41.0l-1.6 1.2M294.0 42.2l-1.6 1.3M292.4 43.5l-1.6 1.4M290.9 44.9l-1.6 1.4M289.3 46.3l-1.6 1.4M299.0 36.0l-1.6 1.0M297.5 37.0l-1.6 1.1M295.9 38.1l-1.6 1.2M294.3 39.3l-1.6 1.2M292.7 40.5l-1.6 1.2M291.2 41.7l-1.6 1.3M289.6 43.0l-1.6 1.4M288.0 44.4l-1.6 1.4M296.2 35.4l-1.6 1.0M294.6 36.5l-1.6 1.1M293.0 37.6l-1.6 1.2M291.5 38.8l-1.6 1.2M289.9 40.0l-1.6 1.2M288.3 41.2l-1.6 1.4M286.7 42.5l-1.6 1.4M293.3 34.9l-1.6 1.0M291.8 36.0l-1.6 1.1M290.2 37.1l-1.6 1.2M288.6 38.2l-1.6 1.2M287.0 39.4l-1.6 1.3M285.5 40.7l-1.6 1.4M290.5 34.4l-1.6 1.0M288.9 35.4l-1.6 1.1M287.3 36.6l-1.6 1.2M285.8 37.7l-1.6 1.2M284.2 38.9l-1.6 1.3M287.6 33.9l-1.6 1.0M286.0 34.9l-1.6 1.1M284.5 36.0l-1.6 1.2M282.9 37.2l-1.6 1.2M284.8 33.3l-1.6 1.0M283.2 34.4l-1.6 1.1M281.6 35.5l-1.6 1.2M281.9 32.8l-1.6 1.0M280.3 33.8l-1.6 1.1"/>
<path stroke="#f7f31d" d="M319.2 63.3l-1.6 1.3M317.6 64.6l-1.6 1.3M316.1 65.9l-1.6 1.3M314.5 67.2l-1.6 1.3M312.9 68.5l-1.6 1.3M311.3 69.8l-1.6 1.3M309.8 71.0l-1.6 1.3M308.2 72.3l-1.6 1.3M321.1 59.6l-1.6 1.2M319.5 60.8l-1.6 1.2M317.9 62.0l-1.6 1.2M316.4 63.2l-1.6 1.3M314.8 64.5l-1.6 1.4M313.2 65.9l-1.6 1.4M311.6 67.2l-1.6 1.4M310.1 68.6l-1.6 1.3M321.4 57.0l-1.6 1.1M319.8 58.2l-1.6 1.2M318.2 59.3l-1.6 1.2M316.7 60.5l-1.6 1.2M315.1 61.8l-1.6 1.3M313.5 63.0l-1.6 1.3M311.9 64.4l-1.6 1.4M310.4 65.8l-1.6 1.4M323.2 53.5l-1.6 1.1M321.7 54.5l-1.6 1.1M320.1 55.6l-1.6 1.1M318.5 56.7l-1.6 1.2M317.0 57.9l-1.6 1.2M315.4 59.1l-1.6 1.2M313.8 60.3l-1.6 1.3M312.2 61.6l-1.6 1.3M310.7 62.9l-1.6 1.4M309.1 64.3l-1.6 1.5M325.1 49.9l-1.6 1.0M323.5 51.0l-1.6 1.0M322.0 52.0l-1.6 1.1M320.4 53.1l-1.6 1.1M318.8 54.2l-1.6 1.1M317.2 55.3l-1.6 1.1M315.7 56.4l-1.6 1.2M314.1 57.6l-1.6 1.2M312.5 58.8l-1.6 1.3M311.0 60.1l-1.6 1.3M309.4 61.4l-1.6 1.4M327.0 46.3l-1.6 1.0M325.4 47.4l-1.6 1.1M323.8 48.4l-1.6 1.1M322.3 49.5l-1.6 1.1M320.7 50.6l-1.6 1.1M319.1 51.6l-1.6 1.1M317.5 52.7l-1.6 1.1M316.0 53.8l-1.6 1.1M314.4 55.0l-1.6 1.2M312.8 56.1l-1.6 1.2M311.2 57.4l-1.6 1.3M309.7 58.7l-1.6 1.3M308.1 60.0l-1.6 1.4M328.9 42.8l-1.6 1.0M327.3 43.8l-1.6 1.0M325.7 44.8l-1.6 1.0M324.1 45.9l-1.6 1.1M322.6 46.9l-1.6 1.1M321.0 48.0l-1.6 1.1M319.4 49.1l-1.6 1.1M317.8 50.2l-1.6 1.1M316.3 51.3l-1.6 1.1M314.7 52.4l-1.6 1.1M313.1 53.5l-1.6 1.2M311.5 54.7l-1.6 1.2M310.0 55.9l-1.6 1.3M308.4 57.2l-1.6 1.3M327.6 41.2l-1.6 1.0M326.0 42.2l-1.6 1.0M324.4 43.3l-1.6 1.0M322.9 44.3l-1.6 1.1M321.3 45.4l-1.6 1.1M319.7 46.4l-1.6 1.1M318.1 47.5l-1.6 1.1M316.6 48.7l-1.6 1.1M315.0 49.8l-1.6 1.1M313.4 50.9l-1.6 1.1M311.8 52.1l-1.6 1.2M310.3 53.2l-1.6 1.2M308.7 54.4l-1.6 1.3M324.7 40.7l-1.6 1.0M323.1 41.7l-1.6 1.0M321.6 42.8l-1.6 1.1M320.0 43.8l-1.6 1.1M318.4 44.9l-1.6 1.1M316.8 46.0l-1.6 1.1M315.3 47.1l-1.6 1.2M313.7 48.3l-1.6 1.2M312.1 49.4l-1.6 1.2M310.6 50.6l-1.6 1.2M309.0 51.7l-1.6 1.2M307.4 52.9l-1.6 1.2M321.9 40.2l-1.6 1.0M320.3 41.2l-1.6 1.1M318.7 42.3l-1.6 1.1M317.1 43.3l-1.6 1.1M315.6 44.4l-1.6 1.1M314.0 45.5l-1.6 1.2M312.4 46.7l-1.6 1.2M310.8 47.9l-1.6 1.2M309.3 49.0l-1.6 1.2M307.7 50.2l-1.6 1.2M319.0 39.6l-1.6 1.0M317.4 40.7l-1.6 1.1M315.9 41.7l-1.6 1.1M314.3 42.8l-1.6 1.1M312.7 43.9l-1.6 1.1M311.1 45.1l-1.6 1.2M309.6 46.2l-1.6 1.2M308.0 47.4l-1.6 1.2M316.2 39.1l-1.6 1.0M314.6 40.2l-1.6 1.1M313.0 41.2l-1.6 1.1M311.4 42.3l-1.6 1.1M309.9 43.4l-1.6 1.1M308.3 44.6l-1.6 1.2M306.7 45.8l-1.6 1.2M313.3 38.6l-1.6 1.0M311.7 39.6l-1.6 1.1M310.2 40.7l-1.6 1.1M308.6 41.8l-1.6 1.1M307.0 43.0l-1.6 1.2M310.5 38.1l-1.6 1.0M308.9 39.1l-1.6 1.1M307.3 40.2l-1.6 1.1M305.7 41.3l-1.6 1.1M307.6 37.5l-1.6 1.0M306.0 38.6l-1.6 1.1"/>
<path stroke="#f9fb15" d="M347.6 44.9l-1.6 1.0M346.0 45.9l-1.6 1.0M344.4 46.8l-1.6 1.0M342.8 47.8l-1.6 1.0M341.3 48.8l-1.6 1.0M339.7 49.7l-1.6 1.0M338.1 50.7l-1.6 1.0M336.5 51.7l-1.6 1.0M335.0 52.7l-1.6 1.0M333.4 53.6l-1.6 1.0M331.8 54.6l-1.6 1.0M330.2 55.6l-1.6 1.0M328.7 56.6l-1.6 1.0M327.1 57.7l-1.6 1.1M325.5 58.8l-1.6 1.1M323.9 59.9l-1.6 1.1M322.4 61.0l-1.6 1.2M320.8 62.1l-1.6 1.2M344.7 44.4l-1.6 1.0M343.1 45.4l-1.6 1.0M341.5 46.3l-1.6 1.0M340.0 47.3l-1.6 1.0M338.4 48.3l-1.6 1.0M336.8 49.3l-1.6 1.0M335.3 50.3l-1.6 1.0M333.7 51.3l-1.6 1.0M332.1 52.3l-1.6 1.0M330.5 53.2l-1.6 1.0M329.0 54.2l-1.6 1.0M327.4 55.3l-1.6 1.0M325.8 56.3l-1.6 1.1M324.2 57.4l-1.6 1.1M322.7 58.5l-1.6 1.1M341.8 43.9l-1.6 1.0M340.3 44.8l-1.6 1.0M338.7 45.8l-1.6 1.0M337.1 46.8l-1.6 1.0M335.5 47.8l-1.6 1.0M334.0 48.8l-1.6 1.0M332.4 49.8l-1.6 1.0M330.8 50.8l-1.6 1.0M329.2 51.8l-1.6 1.0M327.7 52.8l-1.6 1.0M326.1 53.8l-1.6 1.0M324.5 54.9l-1.6 1.1M323.0 55.9l-1.6 1.1M339.0 43.3l-1.6 1.0M337.4 44.3l-1.6 1.0M335.8 45.3l-1.6 1.0M334.3 46.3l-1.6 1.0M332.7 47.3l-1.6 1.0M331.1 48.3l-1.6 1.0M329.5 49.3l-1.6 1.0M328.0 50.4l-1.6 1.0M326.4 51.4l-1.6 1.0M324.8 52.4l-1.6 1.0M336.1 42.8l-1.6 1.0M334.6 43.8l-1.6 1.0M333.0 44.8l-1.6 1.0M331.4 45.8l-1.6 1.0M329.8 46.8l-1.6 1.0M328.3 47.8l-1.6 1.0M326.7 48.9l-1.6 1.0M333.3 42.3l-1.6 1.0M331.7 43.3l-1.6 1.0M330.1 44.3l-1.6 1.0M328.6 45.3l-1.6 1.0M330.4 41.8l-1.6 1.0"/>
</g>
<path d="M195.6 200.9l5.3 9.5h-10.6z" fill="none" stroke="#111" stroke-width="1" stroke-linejoin="miter"/>
<path d="M399.7 216.5L409.5 216.5M401.2 213.0L408.1 219.9M404.6 211.6L404.6 221.4M408.1 213.0L401.2 219.9" stroke="#111" stroke-width="0.9" fill="none"/>
<g font-family="Liberation Sans, Arial, sans-serif" font-size="15.6" fill="#262626">
<text x="53.2" y="262.6" text-anchor="end">0</text>
<text x="53.2" y="184.3" text-anchor="end">0.5</text>
<text x="53.2" y="106.1" text-anchor="end">1</text>
<text x="53.5" y="282.0" text-anchor="end">60</text>
<text x="110.6" y="299.7" text-anchor="end">40</text>
<text x="167.7" y="317.4" text-anchor="end">20</text>
<text x="224.7" y="335.2" text-anchor="end">0</text>
<text x="281.8" y="352.9" text-anchor="end">-20</text>
<text x="305.4" y="349.9">80</text>
<text x="347.4" y="325.9">60</text>
<text x="389.4" y="301.9">40</text>
<text x="431.3" y="278.0">20</text>
<text x="473.3" y="254.0">0</text>
</g>
<g font-family="Liberation Serif, serif" fill="#000">
<text x="144.5" y="356.6" font-size="19.5" textLength="45" lengthAdjust="spacingAndGlyphs">X/km</text>
<text x="379" y="349.4" font-size="19.5" textLength="45.2" lengthAdjust="spacingAndGlyphs">Y/km</text>
<text transform="translate(18.8,197.7) rotate(-90) scale(1.14,1)" font-size="16.6" font-style="italic">P</text>
<text transform="translate(24.7,186.3) rotate(-90)" font-size="12.2" textLength="25.3" lengthAdjust="spacingAndGlyphs">false</text>
<text x="210.3" y="210.6" font-size="14" textLength="21.6" lengthAdjust="spacingAndGlyphs">RIS</text>
<text x="389.0" y="202.8" font-size="14.4" textLength="37.2" lengthAdjust="spacingAndGlyphs">Radar</text>
<text x="232.4" y="268.3" font-size="14.6" textLength="131.4" lengthAdjust="spacingAndGlyphs">Target detection area</text>
</g>
<path d="M118.4 124.9H193.9V201.8a3.5 3.5 0 0 1-3.5 3.5H118.4a3.5 3.5 0 0 1-3.5-3.5V128.4a3.5 3.5 0 0 1 3.5-3.5z" fill="#f9f9fd" stroke="#a4a4a4" stroke-width="0.9"/>
<g font-family="Liberation Sans, Arial, sans-serif" font-size="15.9">
<text x="122.7" y="149.1" fill="#3a3a3a">X <tspan dx="1.2" fill="#0d7ef9" font-weight="bold">51</tspan></text>
<text x="122.7" y="171.2" fill="#3a3a3a">Y <tspan dx="1.2" fill="#0d7ef9" font-weight="bold">30</tspan></text>
<text x="122.7" y="193.5" fill="#3a3a3a">Z <tspan dx="1.2" fill="#0d7ef9" font-weight="bold">0.5383</tspan></text>
</g>
<circle cx="195.7" cy="123.4" r="3.4" fill="#151515" stroke="#f3efc6" stroke-width="1"/>
<path d="M194.6 118.1l1-1.2M199.6 126.3l1 .6" stroke="#f02020" stroke-width="1.1" stroke-linecap="round"/>
<defs><linearGradient id="cb" x1="0" y1="1" x2="0" y2="0">
<stop offset="0.0000" stop-color="#3e26a8"/>
<stop offset="0.0159" stop-color="#402ab4"/>
<stop offset="0.0317" stop-color="#422ec0"/>
<stop offset="0.0476" stop-color="#4332cb"/>
<stop offset="0.0635" stop-color="#4537d5"/>
<stop offset="0.0794" stop-color="#463cde"/>
<stop offset="0.0952" stop-color="#4741e5"/>
<stop offset="0.1111" stop-color="#4747eb"/>
<stop offset="0.1270" stop-color="#484df0"/>
<stop offset="0.1429" stop-color="#4852f4"/>
<stop offset="0.1587" stop-color="#4758f8"/>
<stop offset="0.1746" stop-color="#465efb"/>
<stop offset="0.1905" stop-color="#4563fd"/>
<stop offset="0.2063" stop-color="#4269fe"/>
<stop offset="0.2222" stop-color="#3e6fff"/>
<stop offset="0.2381" stop-color="#3875fe"/>
<stop offset="0.2540" stop-color="#327cfc"/>
<stop offset="0.2698" stop-color="#2f81fa"/>
<stop offset="0.2857" stop-color="#2e87f7"/>
<stop offset="0.3016" stop-color="#2d8cf3"/>
<stop offset="0.3175" stop-color="#2b91ef"/>
<stop offset="0.3333" stop-color="#2797eb"/>
<stop offset="0.3492" stop-color="#259be8"/>
<stop offset="0.3651" stop-color="#23a0e5"/>
<stop offset="0.3810" stop-color="#20a5e3"/>
<stop offset="0.3968" stop-color="#1ca9df"/>
<stop offset="0.4127" stop-color="#18addb"/>
<stop offset="0.4286" stop-color="#12b1d6"/>
<stop offset="0.4444" stop-color="#08b5d0"/>
<stop offset="0.4603" stop-color="#01b8ca"/>
<stop offset="0.4762" stop-color="#02bac3"/>
<stop offset="0.4921" stop-color="#0bbdbd"/>
<stop offset="0.5079" stop-color="#19bfb6"/>
<stop offset="0.5238" stop-color="#24c1ae"/>
<stop offset="0.5397" stop-color="#2cc4a7"/>
<stop offset="0.5556" stop-color="#31c69f"/>
<stop offset="0.5714" stop-color="#37c897"/>
<stop offset="0.5873" stop-color="#3fca8e"/>
<stop offset="0.6032" stop-color="#4acb84"/>
<stop offset="0.6190" stop-color="#57cc7a"/>
<stop offset="0.6349" stop-color="#64cd6f"/>
<stop offset="0.6508" stop-color="#72cd64"/>
<stop offset="0.6667" stop-color="#81cc59"/>
<stop offset="0.6825" stop-color="#8fcb4e"/>
<stop offset="0.6984" stop-color="#9dc943"/>
<stop offset="0.7143" stop-color="#abc739"/>
<stop offset="0.7302" stop-color="#b9c431"/>
<stop offset="0.7460" stop-color="#c5c22a"/>
<stop offset="0.7619" stop-color="#d1bf27"/>
<stop offset="0.7778" stop-color="#dcbd29"/>
<stop offset="0.7937" stop-color="#e6bb2d"/>
<stop offset="0.8095" stop-color="#f0ba36"/>
<stop offset="0.8254" stop-color="#f8ba3d"/>
<stop offset="0.8413" stop-color="#febe3c"/>
<stop offset="0.8571" stop-color="#fec338"/>
<stop offset="0.8730" stop-color="#fec934"/>
<stop offset="0.8889" stop-color="#fccf30"/>
<stop offset="0.9048" stop-color="#fad62d"/>
<stop offset="0.9206" stop-color="#f7dc2a"/>
<stop offset="0.9365" stop-color="#f5e327"/>
<stop offset="0.9524" stop-color="#f5e924"/>
<stop offset="0.9683" stop-color="#f6ef20"/>
<stop offset="0.9841" stop-color="#f7f51b"/>
<stop offset="1.0000" stop-color="#f9fb15"/>
</linearGradient></defs>
<rect x="492.6" y="9.6" width="25.799999999999955" height="321.29999999999995" fill="url(#cb)" stroke="#333" stroke-width="0.85"/>
<g font-family="Liberation Sans, Arial, sans-serif" font-size="14.4" fill="#262626">
<text x="524.7" y="337.8">0</text>
<text x="524.7" y="305.0">0.1</text>
<text x="524.7" y="272.2">0.2</text>
<text x="524.7" y="239.3">0.3</text>
<text x="524.7" y="206.5">0.4</text>
<text x="524.7" y="173.7">0.5</text>
<text x="524.7" y="140.9">0.6</text>
<text x="524.7" y="108.1">0.7</text>
<text x="524.7" y="75.2">0.8</text>
<text x="524.7" y="42.4">0.9</text>
</g>
<path d="M518.4 298.1h-3.2M518.4 265.3h-3.2M518.4 232.4h-3.2M518.4 199.6h-3.2M518.4 166.8h-3.2M518.4 134.0h-3.2M518.4 101.2h-3.2M518.4 68.3h-3.2M518.4 35.5h-3.2" stroke="#262626" stroke-width="1"/>
</svg></body></html>
